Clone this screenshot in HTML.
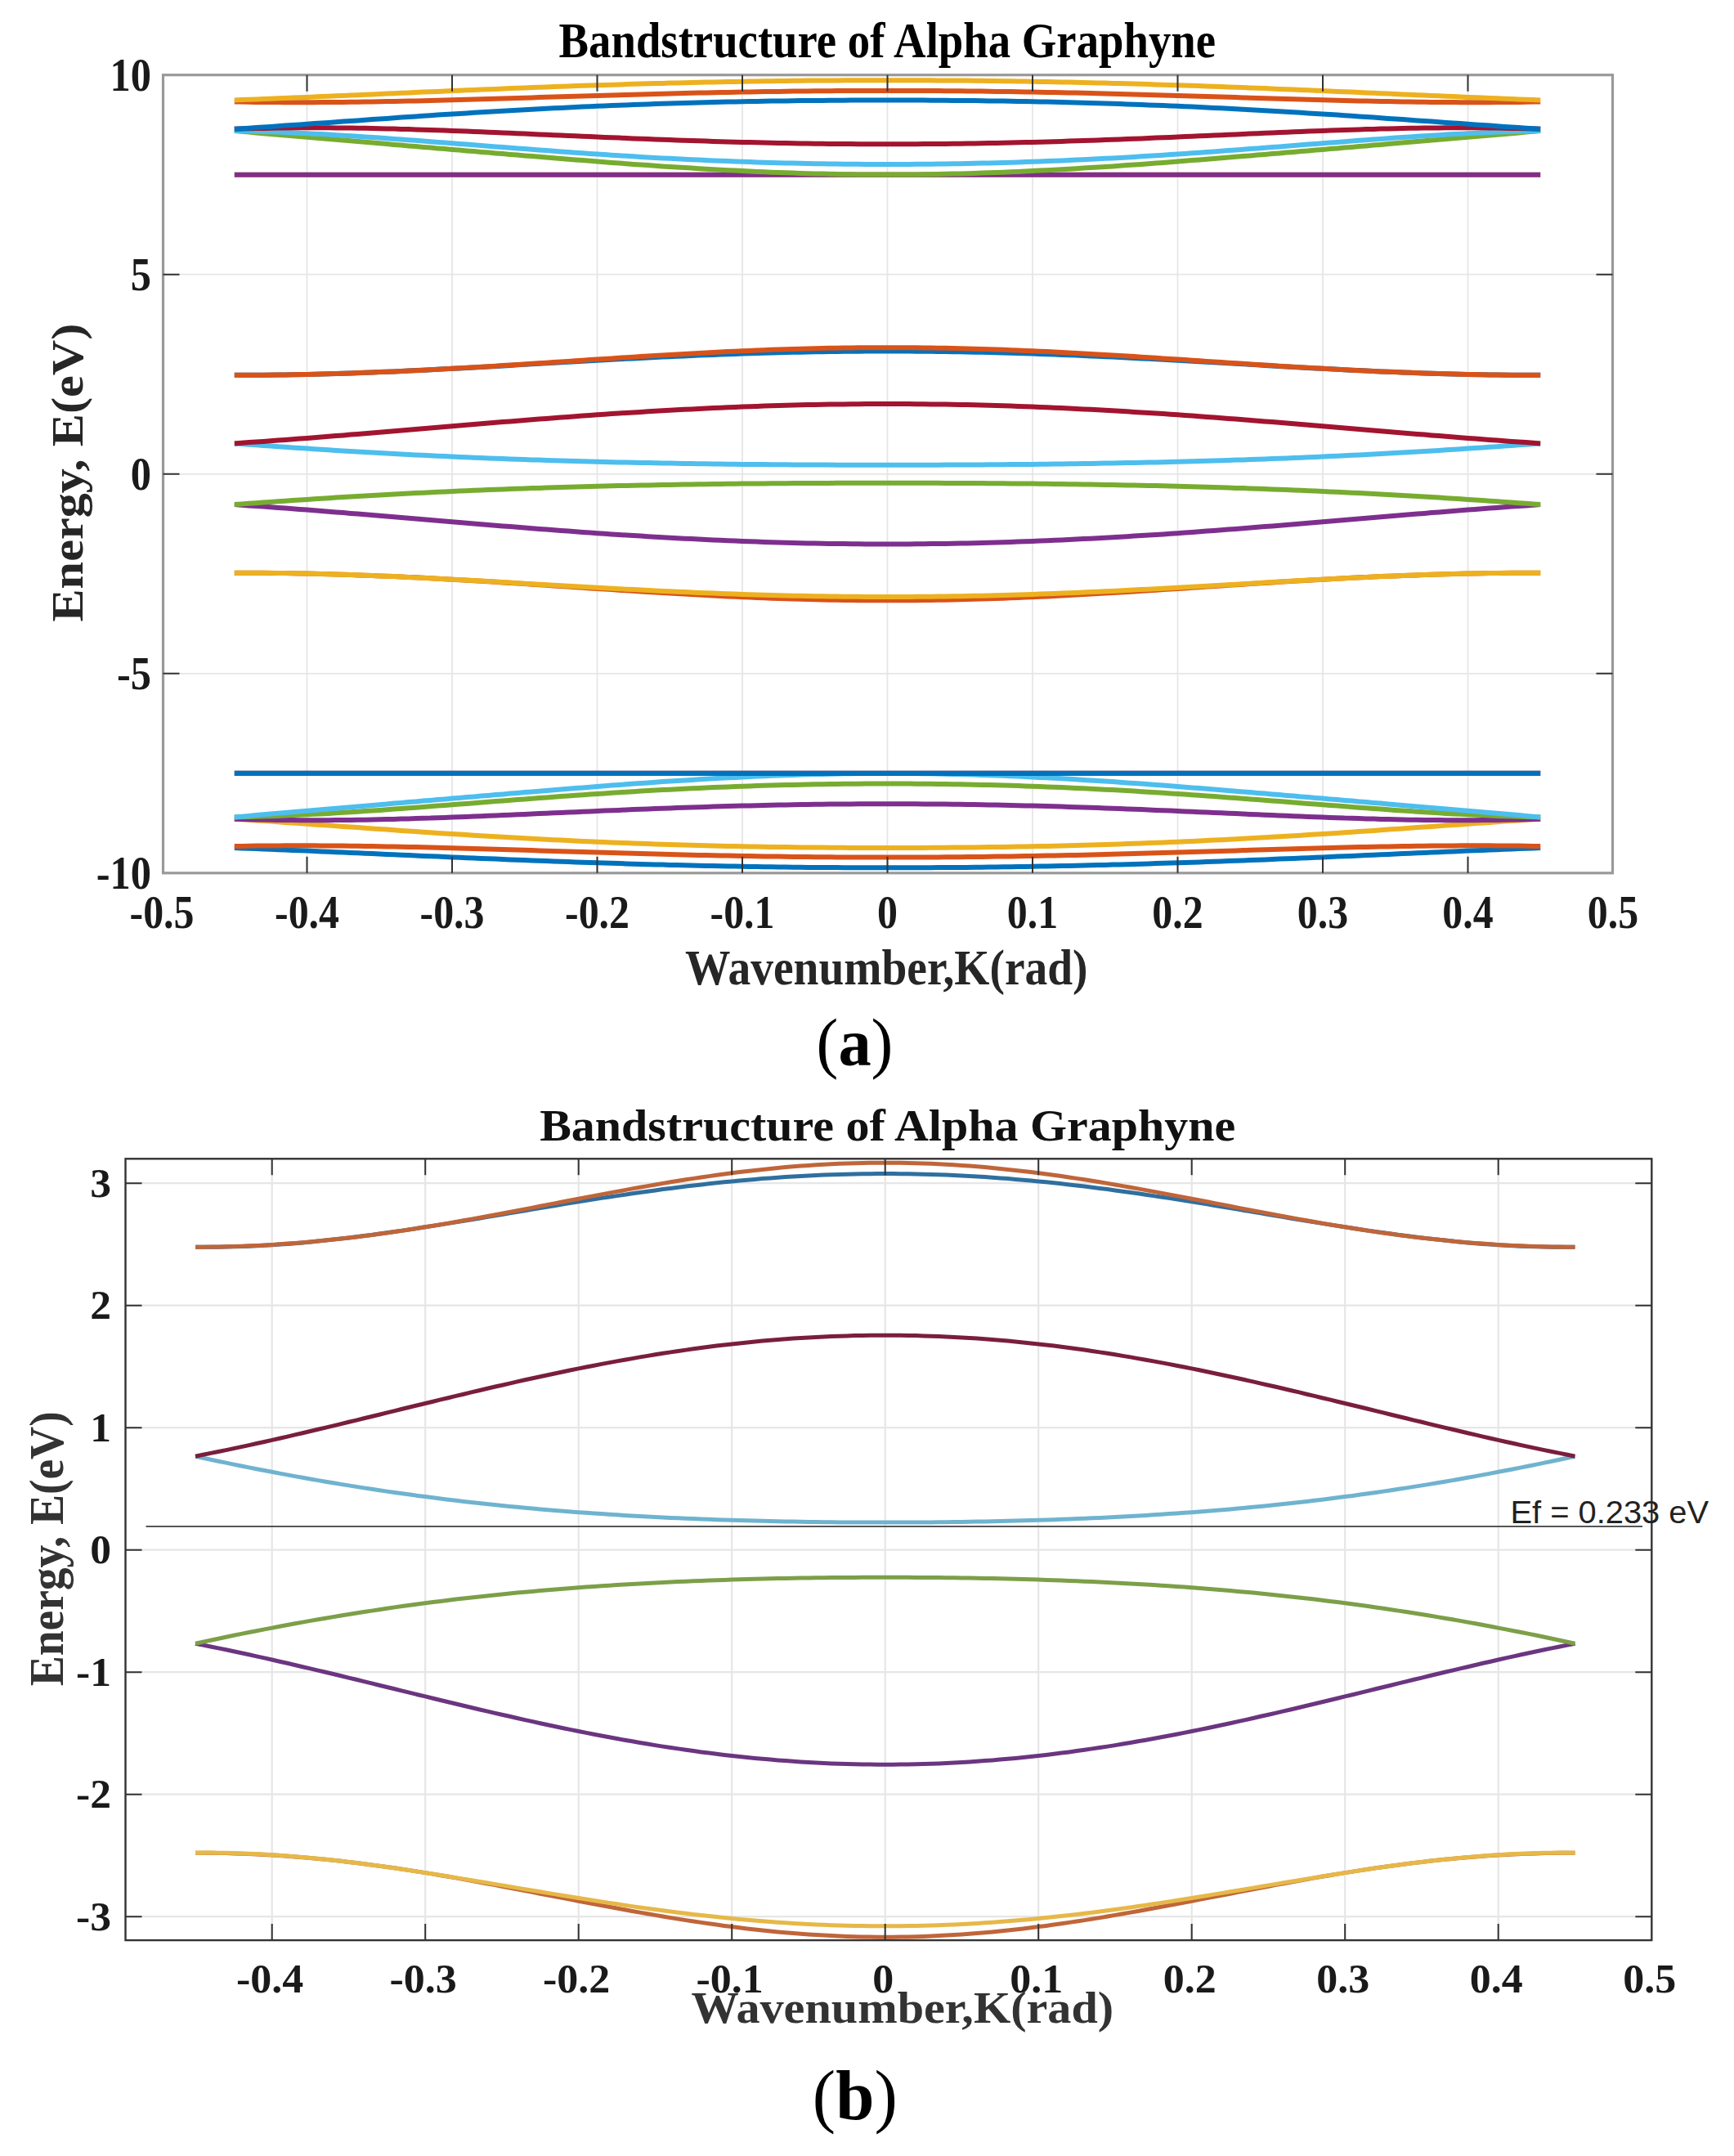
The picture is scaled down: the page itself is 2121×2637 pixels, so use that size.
<!DOCTYPE html>
<html><head><meta charset="utf-8"><title>Bandstructure of Alpha Graphyne</title>
<style>html,body{margin:0;padding:0;background:#fff;overflow:hidden;} svg{display:block;}</style></head>
<body><svg width="2121" height="2637" viewBox="0 0 2121 2637">
<rect width="2121" height="2637" fill="#fff"/>
<g id="pa">
<path d="M375.5,91.7V1067.8M553.0,91.7V1067.8M730.5,91.7V1067.8M908.0,91.7V1067.8M1085.5,91.7V1067.8M1263.0,91.7V1067.8M1440.5,91.7V1067.8M1618.0,91.7V1067.8M1795.5,91.7V1067.8M199.5,335.7H1972.5M199.5,579.8H1972.5M199.5,823.8H1972.5" stroke="#e6e6e6" stroke-width="1.8" fill="none"/>
<polyline points="286.8,1037.0 295.6,1037.4 304.5,1037.7 313.4,1038.1 322.2,1038.4 331.1,1038.8 340.0,1039.2 348.9,1039.5 357.8,1039.9 366.6,1040.3 375.5,1040.6 384.4,1041.0 393.2,1041.4 402.1,1041.8 411.0,1042.2 419.9,1042.6 428.8,1042.9 437.6,1043.3 446.5,1043.7 455.4,1044.1 464.2,1044.5 473.1,1044.9 482.0,1045.3 490.9,1045.7 499.8,1046.1 508.6,1046.5 517.5,1046.9 526.4,1047.3 535.2,1047.6 544.1,1048.0 553.0,1048.4 561.9,1048.8 570.7,1049.2 579.6,1049.5 588.5,1049.9 597.4,1050.3 606.2,1050.6 615.1,1051.0 624.0,1051.4 632.9,1051.7 641.8,1052.1 650.6,1052.4 659.5,1052.7 668.4,1053.1 677.2,1053.4 686.1,1053.7 695.0,1054.0 703.9,1054.4 712.8,1054.7 721.6,1055.0 730.5,1055.3 739.4,1055.6 748.2,1055.8 757.1,1056.1 766.0,1056.4 774.9,1056.7 783.8,1056.9 792.6,1057.2 801.5,1057.4 810.4,1057.6 819.2,1057.9 828.1,1058.1 837.0,1058.3 845.9,1058.5 854.8,1058.7 863.6,1058.9 872.5,1059.1 881.4,1059.3 890.2,1059.5 899.1,1059.6 908.0,1059.8 916.9,1059.9 925.8,1060.1 934.6,1060.2 943.5,1060.3 952.4,1060.5 961.2,1060.6 970.1,1060.7 979.0,1060.8 987.9,1060.9 996.8,1061.0 1005.6,1061.0 1014.5,1061.1 1023.4,1061.1 1032.2,1061.2 1041.1,1061.2 1050.0,1061.3 1058.9,1061.3 1067.8,1061.3 1076.6,1061.3 1085.5,1061.3 1094.4,1061.3 1103.2,1061.3 1112.1,1061.3 1121.0,1061.3 1129.9,1061.2 1138.8,1061.2 1147.6,1061.1 1156.5,1061.1 1165.4,1061.0 1174.2,1061.0 1183.1,1060.9 1192.0,1060.8 1200.9,1060.7 1209.8,1060.6 1218.6,1060.5 1227.5,1060.3 1236.4,1060.2 1245.2,1060.1 1254.1,1059.9 1263.0,1059.8 1271.9,1059.6 1280.8,1059.5 1289.6,1059.3 1298.5,1059.1 1307.4,1058.9 1316.2,1058.7 1325.1,1058.5 1334.0,1058.3 1342.9,1058.1 1351.8,1057.9 1360.6,1057.6 1369.5,1057.4 1378.4,1057.2 1387.2,1056.9 1396.1,1056.7 1405.0,1056.4 1413.9,1056.1 1422.8,1055.8 1431.6,1055.6 1440.5,1055.3 1449.4,1055.0 1458.2,1054.7 1467.1,1054.4 1476.0,1054.0 1484.9,1053.7 1493.8,1053.4 1502.6,1053.1 1511.5,1052.7 1520.4,1052.4 1529.2,1052.1 1538.1,1051.7 1547.0,1051.4 1555.9,1051.0 1564.8,1050.6 1573.6,1050.3 1582.5,1049.9 1591.4,1049.5 1600.2,1049.2 1609.1,1048.8 1618.0,1048.4 1626.9,1048.0 1635.8,1047.6 1644.6,1047.3 1653.5,1046.9 1662.4,1046.5 1671.2,1046.1 1680.1,1045.7 1689.0,1045.3 1697.9,1044.9 1706.8,1044.5 1715.6,1044.1 1724.5,1043.7 1733.4,1043.3 1742.2,1042.9 1751.1,1042.6 1760.0,1042.2 1768.9,1041.8 1777.8,1041.4 1786.6,1041.0 1795.5,1040.6 1804.4,1040.3 1813.2,1039.9 1822.1,1039.5 1831.0,1039.2 1839.9,1038.8 1848.8,1038.4 1857.6,1038.1 1866.5,1037.7 1875.4,1037.4 1884.2,1037.0" fill="none" stroke="#0072BD" stroke-width="6.0" stroke-linejoin="round"/>
<polyline points="286.8,1035.0 295.6,1034.9 304.5,1034.7 313.4,1034.6 322.2,1034.5 331.1,1034.4 340.0,1034.4 348.9,1034.3 357.8,1034.3 366.6,1034.3 375.5,1034.3 384.4,1034.3 393.2,1034.4 402.1,1034.4 411.0,1034.5 419.9,1034.6 428.8,1034.7 437.6,1034.8 446.5,1034.9 455.4,1035.1 464.2,1035.2 473.1,1035.4 482.0,1035.5 490.9,1035.7 499.8,1035.9 508.6,1036.1 517.5,1036.3 526.4,1036.5 535.2,1036.8 544.1,1037.0 553.0,1037.2 561.9,1037.5 570.7,1037.7 579.6,1038.0 588.5,1038.2 597.4,1038.5 606.2,1038.8 615.1,1039.0 624.0,1039.3 632.9,1039.6 641.8,1039.8 650.6,1040.1 659.5,1040.4 668.4,1040.7 677.2,1040.9 686.1,1041.2 695.0,1041.5 703.9,1041.8 712.8,1042.0 721.6,1042.3 730.5,1042.6 739.4,1042.8 748.2,1043.1 757.1,1043.3 766.0,1043.6 774.9,1043.8 783.8,1044.1 792.6,1044.3 801.5,1044.6 810.4,1044.8 819.2,1045.0 828.1,1045.2 837.0,1045.5 845.9,1045.7 854.8,1045.9 863.6,1046.1 872.5,1046.3 881.4,1046.4 890.2,1046.6 899.1,1046.8 908.0,1046.9 916.9,1047.1 925.8,1047.2 934.6,1047.4 943.5,1047.5 952.4,1047.6 961.2,1047.8 970.1,1047.9 979.0,1048.0 987.9,1048.1 996.8,1048.2 1005.6,1048.2 1014.5,1048.3 1023.4,1048.4 1032.2,1048.4 1041.1,1048.5 1050.0,1048.5 1058.9,1048.5 1067.8,1048.5 1076.6,1048.6 1085.5,1048.6 1094.4,1048.6 1103.2,1048.5 1112.1,1048.5 1121.0,1048.5 1129.9,1048.5 1138.8,1048.4 1147.6,1048.4 1156.5,1048.3 1165.4,1048.2 1174.2,1048.2 1183.1,1048.1 1192.0,1048.0 1200.9,1047.9 1209.8,1047.8 1218.6,1047.6 1227.5,1047.5 1236.4,1047.4 1245.2,1047.2 1254.1,1047.1 1263.0,1046.9 1271.9,1046.8 1280.8,1046.6 1289.6,1046.4 1298.5,1046.3 1307.4,1046.1 1316.2,1045.9 1325.1,1045.7 1334.0,1045.5 1342.9,1045.2 1351.8,1045.0 1360.6,1044.8 1369.5,1044.6 1378.4,1044.3 1387.2,1044.1 1396.1,1043.8 1405.0,1043.6 1413.9,1043.3 1422.8,1043.1 1431.6,1042.8 1440.5,1042.6 1449.4,1042.3 1458.2,1042.0 1467.1,1041.8 1476.0,1041.5 1484.9,1041.2 1493.8,1040.9 1502.6,1040.7 1511.5,1040.4 1520.4,1040.1 1529.2,1039.8 1538.1,1039.6 1547.0,1039.3 1555.9,1039.0 1564.8,1038.8 1573.6,1038.5 1582.5,1038.2 1591.4,1038.0 1600.2,1037.7 1609.1,1037.5 1618.0,1037.2 1626.9,1037.0 1635.8,1036.8 1644.6,1036.5 1653.5,1036.3 1662.4,1036.1 1671.2,1035.9 1680.1,1035.7 1689.0,1035.5 1697.9,1035.4 1706.8,1035.2 1715.6,1035.1 1724.5,1034.9 1733.4,1034.8 1742.2,1034.7 1751.1,1034.6 1760.0,1034.5 1768.9,1034.4 1777.8,1034.4 1786.6,1034.3 1795.5,1034.3 1804.4,1034.3 1813.2,1034.3 1822.1,1034.3 1831.0,1034.4 1839.9,1034.4 1848.8,1034.5 1857.6,1034.6 1866.5,1034.7 1875.4,1034.9 1884.2,1035.0" fill="none" stroke="#D95319" stroke-width="6.0" stroke-linejoin="round"/>
<polyline points="286.8,1001.7 295.6,1002.2 304.5,1002.8 313.4,1003.4 322.2,1004.0 331.1,1004.6 340.0,1005.2 348.9,1005.9 357.8,1006.5 366.6,1007.1 375.5,1007.7 384.4,1008.4 393.2,1009.0 402.1,1009.6 411.0,1010.2 419.9,1010.9 428.8,1011.5 437.6,1012.1 446.5,1012.8 455.4,1013.4 464.2,1014.0 473.1,1014.6 482.0,1015.3 490.9,1015.9 499.8,1016.5 508.6,1017.1 517.5,1017.7 526.4,1018.3 535.2,1018.9 544.1,1019.4 553.0,1020.0 561.9,1020.6 570.7,1021.1 579.6,1021.7 588.5,1022.2 597.4,1022.8 606.2,1023.3 615.1,1023.8 624.0,1024.3 632.9,1024.8 641.8,1025.3 650.6,1025.8 659.5,1026.3 668.4,1026.7 677.2,1027.2 686.1,1027.6 695.0,1028.1 703.9,1028.5 712.8,1028.9 721.6,1029.3 730.5,1029.7 739.4,1030.1 748.2,1030.4 757.1,1030.8 766.0,1031.1 774.9,1031.5 783.8,1031.8 792.6,1032.1 801.5,1032.4 810.4,1032.7 819.2,1033.0 828.1,1033.3 837.0,1033.5 845.9,1033.8 854.8,1034.0 863.6,1034.2 872.5,1034.5 881.4,1034.7 890.2,1034.9 899.1,1035.1 908.0,1035.2 916.9,1035.4 925.8,1035.6 934.6,1035.7 943.5,1035.9 952.4,1036.0 961.2,1036.1 970.1,1036.2 979.0,1036.4 987.9,1036.4 996.8,1036.5 1005.6,1036.6 1014.5,1036.7 1023.4,1036.8 1032.2,1036.8 1041.1,1036.9 1050.0,1036.9 1058.9,1036.9 1067.8,1036.9 1076.6,1037.0 1085.5,1037.0 1094.4,1037.0 1103.2,1036.9 1112.1,1036.9 1121.0,1036.9 1129.9,1036.9 1138.8,1036.8 1147.6,1036.8 1156.5,1036.7 1165.4,1036.6 1174.2,1036.5 1183.1,1036.4 1192.0,1036.4 1200.9,1036.2 1209.8,1036.1 1218.6,1036.0 1227.5,1035.9 1236.4,1035.7 1245.2,1035.6 1254.1,1035.4 1263.0,1035.2 1271.9,1035.1 1280.8,1034.9 1289.6,1034.7 1298.5,1034.5 1307.4,1034.2 1316.2,1034.0 1325.1,1033.8 1334.0,1033.5 1342.9,1033.3 1351.8,1033.0 1360.6,1032.7 1369.5,1032.4 1378.4,1032.1 1387.2,1031.8 1396.1,1031.5 1405.0,1031.1 1413.9,1030.8 1422.8,1030.4 1431.6,1030.1 1440.5,1029.7 1449.4,1029.3 1458.2,1028.9 1467.1,1028.5 1476.0,1028.1 1484.9,1027.6 1493.8,1027.2 1502.6,1026.7 1511.5,1026.3 1520.4,1025.8 1529.2,1025.3 1538.1,1024.8 1547.0,1024.3 1555.9,1023.8 1564.8,1023.3 1573.6,1022.8 1582.5,1022.2 1591.4,1021.7 1600.2,1021.1 1609.1,1020.6 1618.0,1020.0 1626.9,1019.4 1635.8,1018.9 1644.6,1018.3 1653.5,1017.7 1662.4,1017.1 1671.2,1016.5 1680.1,1015.9 1689.0,1015.3 1697.9,1014.6 1706.8,1014.0 1715.6,1013.4 1724.5,1012.8 1733.4,1012.1 1742.2,1011.5 1751.1,1010.9 1760.0,1010.2 1768.9,1009.6 1777.8,1009.0 1786.6,1008.4 1795.5,1007.7 1804.4,1007.1 1813.2,1006.5 1822.1,1005.9 1831.0,1005.2 1839.9,1004.6 1848.8,1004.0 1857.6,1003.4 1866.5,1002.8 1875.4,1002.2 1884.2,1001.7" fill="none" stroke="#EDB120" stroke-width="6.0" stroke-linejoin="round"/>
<polyline points="286.8,1001.7 295.6,1002.0 304.5,1002.2 313.4,1002.4 322.2,1002.6 331.1,1002.8 340.0,1002.9 348.9,1003.1 357.8,1003.1 366.6,1003.2 375.5,1003.2 384.4,1003.2 393.2,1003.2 402.1,1003.2 411.0,1003.1 419.9,1003.0 428.8,1002.9 437.6,1002.8 446.5,1002.7 455.4,1002.5 464.2,1002.3 473.1,1002.1 482.0,1001.9 490.9,1001.6 499.8,1001.4 508.6,1001.1 517.5,1000.8 526.4,1000.6 535.2,1000.2 544.1,999.9 553.0,999.6 561.9,999.3 570.7,998.9 579.6,998.6 588.5,998.2 597.4,997.8 606.2,997.5 615.1,997.1 624.0,996.7 632.9,996.3 641.8,995.9 650.6,995.5 659.5,995.1 668.4,994.7 677.2,994.3 686.1,993.9 695.0,993.6 703.9,993.2 712.8,992.8 721.6,992.4 730.5,992.0 739.4,991.6 748.2,991.2 757.1,990.9 766.0,990.5 774.9,990.1 783.8,989.8 792.6,989.4 801.5,989.1 810.4,988.7 819.2,988.4 828.1,988.1 837.0,987.8 845.9,987.5 854.8,987.2 863.6,986.9 872.5,986.6 881.4,986.3 890.2,986.1 899.1,985.8 908.0,985.6 916.9,985.4 925.8,985.2 934.6,985.0 943.5,984.8 952.4,984.6 961.2,984.4 970.1,984.2 979.0,984.1 987.9,984.0 996.8,983.8 1005.6,983.7 1014.5,983.6 1023.4,983.5 1032.2,983.4 1041.1,983.4 1050.0,983.3 1058.9,983.3 1067.8,983.2 1076.6,983.2 1085.5,983.2 1094.4,983.2 1103.2,983.2 1112.1,983.3 1121.0,983.3 1129.9,983.4 1138.8,983.4 1147.6,983.5 1156.5,983.6 1165.4,983.7 1174.2,983.8 1183.1,984.0 1192.0,984.1 1200.9,984.2 1209.8,984.4 1218.6,984.6 1227.5,984.8 1236.4,985.0 1245.2,985.2 1254.1,985.4 1263.0,985.6 1271.9,985.8 1280.8,986.1 1289.6,986.3 1298.5,986.6 1307.4,986.9 1316.2,987.2 1325.1,987.5 1334.0,987.8 1342.9,988.1 1351.8,988.4 1360.6,988.7 1369.5,989.1 1378.4,989.4 1387.2,989.8 1396.1,990.1 1405.0,990.5 1413.9,990.9 1422.8,991.2 1431.6,991.6 1440.5,992.0 1449.4,992.4 1458.2,992.8 1467.1,993.2 1476.0,993.6 1484.9,993.9 1493.8,994.3 1502.6,994.7 1511.5,995.1 1520.4,995.5 1529.2,995.9 1538.1,996.3 1547.0,996.7 1555.9,997.1 1564.8,997.5 1573.6,997.8 1582.5,998.2 1591.4,998.6 1600.2,998.9 1609.1,999.3 1618.0,999.6 1626.9,999.9 1635.8,1000.2 1644.6,1000.6 1653.5,1000.8 1662.4,1001.1 1671.2,1001.4 1680.1,1001.6 1689.0,1001.9 1697.9,1002.1 1706.8,1002.3 1715.6,1002.5 1724.5,1002.7 1733.4,1002.8 1742.2,1002.9 1751.1,1003.0 1760.0,1003.1 1768.9,1003.2 1777.8,1003.2 1786.6,1003.2 1795.5,1003.2 1804.4,1003.2 1813.2,1003.1 1822.1,1003.1 1831.0,1002.9 1839.9,1002.8 1848.8,1002.6 1857.6,1002.4 1866.5,1002.2 1875.4,1002.0 1884.2,1001.7" fill="none" stroke="#7E2F8E" stroke-width="6.0" stroke-linejoin="round"/>
<polyline points="286.8,999.5 295.6,999.3 304.5,999.1 313.4,998.8 322.2,998.5 331.1,998.2 340.0,997.9 348.9,997.5 357.8,997.1 366.6,996.7 375.5,996.3 384.4,995.8 393.2,995.4 402.1,994.9 411.0,994.3 419.9,993.8 428.8,993.3 437.6,992.7 446.5,992.1 455.4,991.5 464.2,990.9 473.1,990.3 482.0,989.6 490.9,989.0 499.8,988.3 508.6,987.7 517.5,987.0 526.4,986.3 535.2,985.6 544.1,985.0 553.0,984.3 561.9,983.6 570.7,982.9 579.6,982.2 588.5,981.5 597.4,980.8 606.2,980.1 615.1,979.4 624.0,978.7 632.9,978.0 641.8,977.4 650.6,976.7 659.5,976.0 668.4,975.4 677.2,974.7 686.1,974.1 695.0,973.4 703.9,972.8 712.8,972.2 721.6,971.6 730.5,971.0 739.4,970.4 748.2,969.8 757.1,969.2 766.0,968.7 774.9,968.2 783.8,967.6 792.6,967.1 801.5,966.6 810.4,966.1 819.2,965.7 828.1,965.2 837.0,964.7 845.9,964.3 854.8,963.9 863.6,963.5 872.5,963.1 881.4,962.7 890.2,962.4 899.1,962.0 908.0,961.7 916.9,961.4 925.8,961.1 934.6,960.8 943.5,960.6 952.4,960.3 961.2,960.1 970.1,959.9 979.0,959.7 987.9,959.5 996.8,959.3 1005.6,959.2 1014.5,959.1 1023.4,958.9 1032.2,958.8 1041.1,958.7 1050.0,958.7 1058.9,958.6 1067.8,958.6 1076.6,958.5 1085.5,958.5 1094.4,958.5 1103.2,958.6 1112.1,958.6 1121.0,958.7 1129.9,958.7 1138.8,958.8 1147.6,958.9 1156.5,959.1 1165.4,959.2 1174.2,959.3 1183.1,959.5 1192.0,959.7 1200.9,959.9 1209.8,960.1 1218.6,960.3 1227.5,960.6 1236.4,960.8 1245.2,961.1 1254.1,961.4 1263.0,961.7 1271.9,962.0 1280.8,962.4 1289.6,962.7 1298.5,963.1 1307.4,963.5 1316.2,963.9 1325.1,964.3 1334.0,964.7 1342.9,965.2 1351.8,965.7 1360.6,966.1 1369.5,966.6 1378.4,967.1 1387.2,967.6 1396.1,968.2 1405.0,968.7 1413.9,969.2 1422.8,969.8 1431.6,970.4 1440.5,971.0 1449.4,971.6 1458.2,972.2 1467.1,972.8 1476.0,973.4 1484.9,974.1 1493.8,974.7 1502.6,975.4 1511.5,976.0 1520.4,976.7 1529.2,977.4 1538.1,978.0 1547.0,978.7 1555.9,979.4 1564.8,980.1 1573.6,980.8 1582.5,981.5 1591.4,982.2 1600.2,982.9 1609.1,983.6 1618.0,984.3 1626.9,985.0 1635.8,985.6 1644.6,986.3 1653.5,987.0 1662.4,987.7 1671.2,988.3 1680.1,989.0 1689.0,989.6 1697.9,990.3 1706.8,990.9 1715.6,991.5 1724.5,992.1 1733.4,992.7 1742.2,993.3 1751.1,993.8 1760.0,994.3 1768.9,994.9 1777.8,995.4 1786.6,995.8 1795.5,996.3 1804.4,996.7 1813.2,997.1 1822.1,997.5 1831.0,997.9 1839.9,998.2 1848.8,998.5 1857.6,998.8 1866.5,999.1 1875.4,999.3 1884.2,999.5" fill="none" stroke="#77AC30" stroke-width="6.0" stroke-linejoin="round"/>
<polyline points="286.8,999.5 295.6,998.7 304.5,997.9 313.4,997.1 322.2,996.3 331.1,995.6 340.0,994.8 348.9,994.0 357.8,993.2 366.6,992.5 375.5,991.7 384.4,991.0 393.2,990.2 402.1,989.4 411.0,988.7 419.9,987.9 428.8,987.2 437.6,986.4 446.5,985.7 455.4,984.9 464.2,984.2 473.1,983.4 482.0,982.6 490.9,981.9 499.8,981.1 508.6,980.4 517.5,979.6 526.4,978.9 535.2,978.1 544.1,977.4 553.0,976.6 561.9,975.9 570.7,975.1 579.6,974.4 588.5,973.6 597.4,972.9 606.2,972.1 615.1,971.4 624.0,970.6 632.9,969.9 641.8,969.1 650.6,968.4 659.5,967.7 668.4,966.9 677.2,966.2 686.1,965.5 695.0,964.8 703.9,964.1 712.8,963.4 721.6,962.7 730.5,962.0 739.4,961.3 748.2,960.6 757.1,959.9 766.0,959.3 774.9,958.6 783.8,958.0 792.6,957.4 801.5,956.8 810.4,956.1 819.2,955.6 828.1,955.0 837.0,954.4 845.9,953.9 854.8,953.3 863.6,952.8 872.5,952.3 881.4,951.8 890.2,951.3 899.1,950.9 908.0,950.4 916.9,950.0 925.8,949.6 934.6,949.2 943.5,948.8 952.4,948.5 961.2,948.2 970.1,947.9 979.0,947.6 987.9,947.3 996.8,947.1 1005.6,946.9 1014.5,946.7 1023.4,946.5 1032.2,946.3 1041.1,946.2 1050.0,946.1 1058.9,946.0 1067.8,946.0 1076.6,945.9 1085.5,945.9 1094.4,945.9 1103.2,946.0 1112.1,946.0 1121.0,946.1 1129.9,946.2 1138.8,946.3 1147.6,946.5 1156.5,946.7 1165.4,946.9 1174.2,947.1 1183.1,947.3 1192.0,947.6 1200.9,947.9 1209.8,948.2 1218.6,948.5 1227.5,948.8 1236.4,949.2 1245.2,949.6 1254.1,950.0 1263.0,950.4 1271.9,950.9 1280.8,951.3 1289.6,951.8 1298.5,952.3 1307.4,952.8 1316.2,953.3 1325.1,953.9 1334.0,954.4 1342.9,955.0 1351.8,955.6 1360.6,956.1 1369.5,956.8 1378.4,957.4 1387.2,958.0 1396.1,958.6 1405.0,959.3 1413.9,959.9 1422.8,960.6 1431.6,961.3 1440.5,962.0 1449.4,962.7 1458.2,963.4 1467.1,964.1 1476.0,964.8 1484.9,965.5 1493.8,966.2 1502.6,966.9 1511.5,967.7 1520.4,968.4 1529.2,969.1 1538.1,969.9 1547.0,970.6 1555.9,971.4 1564.8,972.1 1573.6,972.9 1582.5,973.6 1591.4,974.4 1600.2,975.1 1609.1,975.9 1618.0,976.6 1626.9,977.4 1635.8,978.1 1644.6,978.9 1653.5,979.6 1662.4,980.4 1671.2,981.1 1680.1,981.9 1689.0,982.6 1697.9,983.4 1706.8,984.2 1715.6,984.9 1724.5,985.7 1733.4,986.4 1742.2,987.2 1751.1,987.9 1760.0,988.7 1768.9,989.4 1777.8,990.2 1786.6,991.0 1795.5,991.7 1804.4,992.5 1813.2,993.2 1822.1,994.0 1831.0,994.8 1839.9,995.6 1848.8,996.3 1857.6,997.1 1866.5,997.9 1875.4,998.7 1884.2,999.5" fill="none" stroke="#4DBEEE" stroke-width="6.0" stroke-linejoin="round"/>
<polyline points="286.8,945.8 295.6,945.8 304.5,945.8 313.4,945.8 322.2,945.8 331.1,945.8 340.0,945.8 348.9,945.8 357.8,945.8 366.6,945.8 375.5,945.8 384.4,945.8 393.2,945.8 402.1,945.8 411.0,945.8 419.9,945.8 428.8,945.8 437.6,945.8 446.5,945.8 455.4,945.8 464.2,945.8 473.1,945.8 482.0,945.8 490.9,945.8 499.8,945.8 508.6,945.8 517.5,945.8 526.4,945.8 535.2,945.8 544.1,945.8 553.0,945.8 561.9,945.8 570.7,945.8 579.6,945.8 588.5,945.8 597.4,945.8 606.2,945.8 615.1,945.8 624.0,945.8 632.9,945.8 641.8,945.8 650.6,945.8 659.5,945.8 668.4,945.8 677.2,945.8 686.1,945.8 695.0,945.8 703.9,945.8 712.8,945.8 721.6,945.8 730.5,945.8 739.4,945.8 748.2,945.8 757.1,945.8 766.0,945.8 774.9,945.8 783.8,945.8 792.6,945.8 801.5,945.8 810.4,945.8 819.2,945.8 828.1,945.8 837.0,945.8 845.9,945.8 854.8,945.8 863.6,945.8 872.5,945.8 881.4,945.8 890.2,945.8 899.1,945.8 908.0,945.8 916.9,945.8 925.8,945.8 934.6,945.8 943.5,945.8 952.4,945.8 961.2,945.8 970.1,945.8 979.0,945.8 987.9,945.8 996.8,945.8 1005.6,945.8 1014.5,945.8 1023.4,945.8 1032.2,945.8 1041.1,945.8 1050.0,945.8 1058.9,945.8 1067.8,945.8 1076.6,945.8 1085.5,945.8 1094.4,945.8 1103.2,945.8 1112.1,945.8 1121.0,945.8 1129.9,945.8 1138.8,945.8 1147.6,945.8 1156.5,945.8 1165.4,945.8 1174.2,945.8 1183.1,945.8 1192.0,945.8 1200.9,945.8 1209.8,945.8 1218.6,945.8 1227.5,945.8 1236.4,945.8 1245.2,945.8 1254.1,945.8 1263.0,945.8 1271.9,945.8 1280.8,945.8 1289.6,945.8 1298.5,945.8 1307.4,945.8 1316.2,945.8 1325.1,945.8 1334.0,945.8 1342.9,945.8 1351.8,945.8 1360.6,945.8 1369.5,945.8 1378.4,945.8 1387.2,945.8 1396.1,945.8 1405.0,945.8 1413.9,945.8 1422.8,945.8 1431.6,945.8 1440.5,945.8 1449.4,945.8 1458.2,945.8 1467.1,945.8 1476.0,945.8 1484.9,945.8 1493.8,945.8 1502.6,945.8 1511.5,945.8 1520.4,945.8 1529.2,945.8 1538.1,945.8 1547.0,945.8 1555.9,945.8 1564.8,945.8 1573.6,945.8 1582.5,945.8 1591.4,945.8 1600.2,945.8 1609.1,945.8 1618.0,945.8 1626.9,945.8 1635.8,945.8 1644.6,945.8 1653.5,945.8 1662.4,945.8 1671.2,945.8 1680.1,945.8 1689.0,945.8 1697.9,945.8 1706.8,945.8 1715.6,945.8 1724.5,945.8 1733.4,945.8 1742.2,945.8 1751.1,945.8 1760.0,945.8 1768.9,945.8 1777.8,945.8 1786.6,945.8 1795.5,945.8 1804.4,945.8 1813.2,945.8 1822.1,945.8 1831.0,945.8 1839.9,945.8 1848.8,945.8 1857.6,945.8 1866.5,945.8 1875.4,945.8 1884.2,945.8" fill="none" stroke="#A2142F" stroke-width="6.0" stroke-linejoin="round"/>
<polyline points="286.8,945.8 295.6,945.8 304.5,945.8 313.4,945.8 322.2,945.8 331.1,945.8 340.0,945.8 348.9,945.8 357.8,945.8 366.6,945.8 375.5,945.8 384.4,945.8 393.2,945.8 402.1,945.8 411.0,945.8 419.9,945.8 428.8,945.8 437.6,945.8 446.5,945.8 455.4,945.8 464.2,945.8 473.1,945.8 482.0,945.8 490.9,945.8 499.8,945.8 508.6,945.8 517.5,945.8 526.4,945.8 535.2,945.8 544.1,945.8 553.0,945.8 561.9,945.8 570.7,945.8 579.6,945.8 588.5,945.8 597.4,945.8 606.2,945.8 615.1,945.8 624.0,945.8 632.9,945.8 641.8,945.8 650.6,945.8 659.5,945.8 668.4,945.8 677.2,945.8 686.1,945.8 695.0,945.8 703.9,945.8 712.8,945.8 721.6,945.8 730.5,945.8 739.4,945.8 748.2,945.8 757.1,945.8 766.0,945.8 774.9,945.8 783.8,945.8 792.6,945.8 801.5,945.8 810.4,945.8 819.2,945.8 828.1,945.8 837.0,945.8 845.9,945.8 854.8,945.8 863.6,945.8 872.5,945.8 881.4,945.8 890.2,945.8 899.1,945.8 908.0,945.8 916.9,945.8 925.8,945.8 934.6,945.8 943.5,945.8 952.4,945.8 961.2,945.8 970.1,945.8 979.0,945.8 987.9,945.8 996.8,945.8 1005.6,945.8 1014.5,945.8 1023.4,945.8 1032.2,945.8 1041.1,945.8 1050.0,945.8 1058.9,945.8 1067.8,945.8 1076.6,945.8 1085.5,945.8 1094.4,945.8 1103.2,945.8 1112.1,945.8 1121.0,945.8 1129.9,945.8 1138.8,945.8 1147.6,945.8 1156.5,945.8 1165.4,945.8 1174.2,945.8 1183.1,945.8 1192.0,945.8 1200.9,945.8 1209.8,945.8 1218.6,945.8 1227.5,945.8 1236.4,945.8 1245.2,945.8 1254.1,945.8 1263.0,945.8 1271.9,945.8 1280.8,945.8 1289.6,945.8 1298.5,945.8 1307.4,945.8 1316.2,945.8 1325.1,945.8 1334.0,945.8 1342.9,945.8 1351.8,945.8 1360.6,945.8 1369.5,945.8 1378.4,945.8 1387.2,945.8 1396.1,945.8 1405.0,945.8 1413.9,945.8 1422.8,945.8 1431.6,945.8 1440.5,945.8 1449.4,945.8 1458.2,945.8 1467.1,945.8 1476.0,945.8 1484.9,945.8 1493.8,945.8 1502.6,945.8 1511.5,945.8 1520.4,945.8 1529.2,945.8 1538.1,945.8 1547.0,945.8 1555.9,945.8 1564.8,945.8 1573.6,945.8 1582.5,945.8 1591.4,945.8 1600.2,945.8 1609.1,945.8 1618.0,945.8 1626.9,945.8 1635.8,945.8 1644.6,945.8 1653.5,945.8 1662.4,945.8 1671.2,945.8 1680.1,945.8 1689.0,945.8 1697.9,945.8 1706.8,945.8 1715.6,945.8 1724.5,945.8 1733.4,945.8 1742.2,945.8 1751.1,945.8 1760.0,945.8 1768.9,945.8 1777.8,945.8 1786.6,945.8 1795.5,945.8 1804.4,945.8 1813.2,945.8 1822.1,945.8 1831.0,945.8 1839.9,945.8 1848.8,945.8 1857.6,945.8 1866.5,945.8 1875.4,945.8 1884.2,945.8" fill="none" stroke="#0072BD" stroke-width="6.0" stroke-linejoin="round"/>
<polyline points="286.8,700.7 295.6,700.7 304.5,700.7 313.4,700.8 322.2,700.8 331.1,700.9 340.0,701.0 348.9,701.1 357.8,701.3 366.6,701.4 375.5,701.6 384.4,701.8 393.2,702.0 402.1,702.3 411.0,702.5 419.9,702.8 428.8,703.1 437.6,703.4 446.5,703.7 455.4,704.0 464.2,704.4 473.1,704.7 482.0,705.1 490.9,705.5 499.8,705.9 508.6,706.3 517.5,706.8 526.4,707.2 535.2,707.7 544.1,708.2 553.0,708.7 561.9,709.2 570.7,709.7 579.6,710.2 588.5,710.7 597.4,711.3 606.2,711.8 615.1,712.4 624.0,712.9 632.9,713.5 641.8,714.1 650.6,714.7 659.5,715.2 668.4,715.8 677.2,716.4 686.1,717.0 695.0,717.6 703.9,718.2 712.8,718.8 721.6,719.4 730.5,720.0 739.4,720.5 748.2,721.1 757.1,721.7 766.0,722.3 774.9,722.8 783.8,723.4 792.6,724.0 801.5,724.5 810.4,725.1 819.2,725.6 828.1,726.1 837.0,726.6 845.9,727.1 854.8,727.6 863.6,728.1 872.5,728.5 881.4,729.0 890.2,729.4 899.1,729.8 908.0,730.2 916.9,730.6 925.8,731.0 934.6,731.3 943.5,731.7 952.4,732.0 961.2,732.3 970.1,732.6 979.0,732.8 987.9,733.1 996.8,733.3 1005.6,733.5 1014.5,733.7 1023.4,733.8 1032.2,734.0 1041.1,734.1 1050.0,734.2 1058.9,734.2 1067.8,734.3 1076.6,734.3 1085.5,734.3 1094.4,734.3 1103.2,734.3 1112.1,734.2 1121.0,734.2 1129.9,734.1 1138.8,734.0 1147.6,733.8 1156.5,733.7 1165.4,733.5 1174.2,733.3 1183.1,733.1 1192.0,732.8 1200.9,732.6 1209.8,732.3 1218.6,732.0 1227.5,731.7 1236.4,731.3 1245.2,731.0 1254.1,730.6 1263.0,730.2 1271.9,729.8 1280.8,729.4 1289.6,729.0 1298.5,728.5 1307.4,728.1 1316.2,727.6 1325.1,727.1 1334.0,726.6 1342.9,726.1 1351.8,725.6 1360.6,725.1 1369.5,724.5 1378.4,724.0 1387.2,723.4 1396.1,722.8 1405.0,722.3 1413.9,721.7 1422.8,721.1 1431.6,720.5 1440.5,720.0 1449.4,719.4 1458.2,718.8 1467.1,718.2 1476.0,717.6 1484.9,717.0 1493.8,716.4 1502.6,715.8 1511.5,715.2 1520.4,714.7 1529.2,714.1 1538.1,713.5 1547.0,712.9 1555.9,712.4 1564.8,711.8 1573.6,711.3 1582.5,710.7 1591.4,710.2 1600.2,709.7 1609.1,709.2 1618.0,708.7 1626.9,708.2 1635.8,707.7 1644.6,707.2 1653.5,706.8 1662.4,706.3 1671.2,705.9 1680.1,705.5 1689.0,705.1 1697.9,704.7 1706.8,704.4 1715.6,704.0 1724.5,703.7 1733.4,703.4 1742.2,703.1 1751.1,702.8 1760.0,702.5 1768.9,702.3 1777.8,702.0 1786.6,701.8 1795.5,701.6 1804.4,701.4 1813.2,701.3 1822.1,701.1 1831.0,701.0 1839.9,700.9 1848.8,700.8 1857.6,700.8 1866.5,700.7 1875.4,700.7 1884.2,700.7" fill="none" stroke="#D95319" stroke-width="6.0" stroke-linejoin="round"/>
<polyline points="286.8,700.7 295.6,700.7 304.5,700.7 313.4,700.7 322.2,700.7 331.1,700.8 340.0,700.9 348.9,701.0 357.8,701.2 366.6,701.3 375.5,701.5 384.4,701.7 393.2,701.9 402.1,702.2 411.0,702.4 419.9,702.7 428.8,703.0 437.6,703.3 446.5,703.7 455.4,704.0 464.2,704.4 473.1,704.7 482.0,705.1 490.9,705.5 499.8,706.0 508.6,706.4 517.5,706.8 526.4,707.3 535.2,707.7 544.1,708.2 553.0,708.7 561.9,709.1 570.7,709.6 579.6,710.1 588.5,710.6 597.4,711.1 606.2,711.6 615.1,712.1 624.0,712.6 632.9,713.2 641.8,713.7 650.6,714.2 659.5,714.7 668.4,715.2 677.2,715.7 686.1,716.3 695.0,716.8 703.9,717.3 712.8,717.8 721.6,718.3 730.5,718.8 739.4,719.3 748.2,719.7 757.1,720.2 766.0,720.7 774.9,721.1 783.8,721.6 792.6,722.0 801.5,722.5 810.4,722.9 819.2,723.3 828.1,723.7 837.0,724.1 845.9,724.5 854.8,724.9 863.6,725.3 872.5,725.6 881.4,726.0 890.2,726.3 899.1,726.6 908.0,726.9 916.9,727.2 925.8,727.5 934.6,727.7 943.5,728.0 952.4,728.2 961.2,728.4 970.1,728.7 979.0,728.8 987.9,729.0 996.8,729.2 1005.6,729.3 1014.5,729.5 1023.4,729.6 1032.2,729.7 1041.1,729.8 1050.0,729.8 1058.9,729.9 1067.8,729.9 1076.6,730.0 1085.5,730.0 1094.4,730.0 1103.2,729.9 1112.1,729.9 1121.0,729.8 1129.9,729.8 1138.8,729.7 1147.6,729.6 1156.5,729.5 1165.4,729.3 1174.2,729.2 1183.1,729.0 1192.0,728.8 1200.9,728.7 1209.8,728.4 1218.6,728.2 1227.5,728.0 1236.4,727.7 1245.2,727.5 1254.1,727.2 1263.0,726.9 1271.9,726.6 1280.8,726.3 1289.6,726.0 1298.5,725.6 1307.4,725.3 1316.2,724.9 1325.1,724.5 1334.0,724.1 1342.9,723.7 1351.8,723.3 1360.6,722.9 1369.5,722.5 1378.4,722.0 1387.2,721.6 1396.1,721.1 1405.0,720.7 1413.9,720.2 1422.8,719.7 1431.6,719.3 1440.5,718.8 1449.4,718.3 1458.2,717.8 1467.1,717.3 1476.0,716.8 1484.9,716.3 1493.8,715.7 1502.6,715.2 1511.5,714.7 1520.4,714.2 1529.2,713.7 1538.1,713.2 1547.0,712.6 1555.9,712.1 1564.8,711.6 1573.6,711.1 1582.5,710.6 1591.4,710.1 1600.2,709.6 1609.1,709.1 1618.0,708.7 1626.9,708.2 1635.8,707.7 1644.6,707.3 1653.5,706.8 1662.4,706.4 1671.2,706.0 1680.1,705.5 1689.0,705.1 1697.9,704.7 1706.8,704.4 1715.6,704.0 1724.5,703.7 1733.4,703.3 1742.2,703.0 1751.1,702.7 1760.0,702.4 1768.9,702.2 1777.8,701.9 1786.6,701.7 1795.5,701.5 1804.4,701.3 1813.2,701.2 1822.1,701.0 1831.0,700.9 1839.9,700.8 1848.8,700.7 1857.6,700.7 1866.5,700.7 1875.4,700.7 1884.2,700.7" fill="none" stroke="#EDB120" stroke-width="6.0" stroke-linejoin="round"/>
<polyline points="286.8,617.1 295.6,617.7 304.5,618.4 313.4,619.0 322.2,619.6 331.1,620.3 340.0,620.9 348.9,621.6 357.8,622.2 366.6,622.9 375.5,623.6 384.4,624.3 393.2,625.0 402.1,625.7 411.0,626.4 419.9,627.1 428.8,627.9 437.6,628.6 446.5,629.3 455.4,630.1 464.2,630.8 473.1,631.5 482.0,632.3 490.9,633.0 499.8,633.8 508.6,634.5 517.5,635.3 526.4,636.0 535.2,636.8 544.1,637.5 553.0,638.3 561.9,639.0 570.7,639.7 579.6,640.5 588.5,641.2 597.4,642.0 606.2,642.7 615.1,643.4 624.0,644.1 632.9,644.8 641.8,645.5 650.6,646.2 659.5,646.9 668.4,647.6 677.2,648.3 686.1,649.0 695.0,649.6 703.9,650.3 712.8,650.9 721.6,651.5 730.5,652.2 739.4,652.8 748.2,653.4 757.1,654.0 766.0,654.5 774.9,655.1 783.8,655.6 792.6,656.2 801.5,656.7 810.4,657.2 819.2,657.7 828.1,658.2 837.0,658.7 845.9,659.1 854.8,659.6 863.6,660.0 872.5,660.4 881.4,660.8 890.2,661.2 899.1,661.6 908.0,661.9 916.9,662.3 925.8,662.6 934.6,662.9 943.5,663.2 952.4,663.5 961.2,663.7 970.1,663.9 979.0,664.2 987.9,664.4 996.8,664.6 1005.6,664.7 1014.5,664.9 1023.4,665.0 1032.2,665.1 1041.1,665.2 1050.0,665.3 1058.9,665.4 1067.8,665.4 1076.6,665.4 1085.5,665.4 1094.4,665.4 1103.2,665.4 1112.1,665.4 1121.0,665.3 1129.9,665.2 1138.8,665.1 1147.6,665.0 1156.5,664.9 1165.4,664.7 1174.2,664.6 1183.1,664.4 1192.0,664.2 1200.9,663.9 1209.8,663.7 1218.6,663.5 1227.5,663.2 1236.4,662.9 1245.2,662.6 1254.1,662.3 1263.0,661.9 1271.9,661.6 1280.8,661.2 1289.6,660.8 1298.5,660.4 1307.4,660.0 1316.2,659.6 1325.1,659.1 1334.0,658.7 1342.9,658.2 1351.8,657.7 1360.6,657.2 1369.5,656.7 1378.4,656.2 1387.2,655.6 1396.1,655.1 1405.0,654.5 1413.9,654.0 1422.8,653.4 1431.6,652.8 1440.5,652.2 1449.4,651.5 1458.2,650.9 1467.1,650.3 1476.0,649.6 1484.9,649.0 1493.8,648.3 1502.6,647.6 1511.5,646.9 1520.4,646.2 1529.2,645.5 1538.1,644.8 1547.0,644.1 1555.9,643.4 1564.8,642.7 1573.6,642.0 1582.5,641.2 1591.4,640.5 1600.2,639.7 1609.1,639.0 1618.0,638.3 1626.9,637.5 1635.8,636.8 1644.6,636.0 1653.5,635.3 1662.4,634.5 1671.2,633.8 1680.1,633.0 1689.0,632.3 1697.9,631.5 1706.8,630.8 1715.6,630.1 1724.5,629.3 1733.4,628.6 1742.2,627.9 1751.1,627.1 1760.0,626.4 1768.9,625.7 1777.8,625.0 1786.6,624.3 1795.5,623.6 1804.4,622.9 1813.2,622.2 1822.1,621.6 1831.0,620.9 1839.9,620.3 1848.8,619.6 1857.6,619.0 1866.5,618.4 1875.4,617.7 1884.2,617.1" fill="none" stroke="#7E2F8E" stroke-width="6.0" stroke-linejoin="round"/>
<polyline points="286.8,617.1 295.6,616.5 304.5,615.8 313.4,615.2 322.2,614.5 331.1,613.9 340.0,613.3 348.9,612.7 357.8,612.1 366.6,611.5 375.5,610.9 384.4,610.3 393.2,609.7 402.1,609.2 411.0,608.6 419.9,608.1 428.8,607.5 437.6,607.0 446.5,606.5 455.4,606.0 464.2,605.5 473.1,605.0 482.0,604.5 490.9,604.0 499.8,603.6 508.6,603.1 517.5,602.7 526.4,602.2 535.2,601.8 544.1,601.4 553.0,601.0 561.9,600.6 570.7,600.2 579.6,599.8 588.5,599.5 597.4,599.1 606.2,598.8 615.1,598.4 624.0,598.1 632.9,597.8 641.8,597.5 650.6,597.1 659.5,596.9 668.4,596.6 677.2,596.3 686.1,596.0 695.0,595.8 703.9,595.5 712.8,595.3 721.6,595.0 730.5,594.8 739.4,594.6 748.2,594.3 757.1,594.1 766.0,593.9 774.9,593.7 783.8,593.6 792.6,593.4 801.5,593.2 810.4,593.0 819.2,592.9 828.1,592.7 837.0,592.6 845.9,592.4 854.8,592.3 863.6,592.2 872.5,592.1 881.4,591.9 890.2,591.8 899.1,591.7 908.0,591.6 916.9,591.5 925.8,591.5 934.6,591.4 943.5,591.3 952.4,591.2 961.2,591.2 970.1,591.1 979.0,591.0 987.9,591.0 996.8,590.9 1005.6,590.9 1014.5,590.9 1023.4,590.8 1032.2,590.8 1041.1,590.8 1050.0,590.7 1058.9,590.7 1067.8,590.7 1076.6,590.7 1085.5,590.7 1094.4,590.7 1103.2,590.7 1112.1,590.7 1121.0,590.7 1129.9,590.8 1138.8,590.8 1147.6,590.8 1156.5,590.9 1165.4,590.9 1174.2,590.9 1183.1,591.0 1192.0,591.0 1200.9,591.1 1209.8,591.2 1218.6,591.2 1227.5,591.3 1236.4,591.4 1245.2,591.5 1254.1,591.5 1263.0,591.6 1271.9,591.7 1280.8,591.8 1289.6,591.9 1298.5,592.1 1307.4,592.2 1316.2,592.3 1325.1,592.4 1334.0,592.6 1342.9,592.7 1351.8,592.9 1360.6,593.0 1369.5,593.2 1378.4,593.4 1387.2,593.6 1396.1,593.7 1405.0,593.9 1413.9,594.1 1422.8,594.3 1431.6,594.6 1440.5,594.8 1449.4,595.0 1458.2,595.3 1467.1,595.5 1476.0,595.8 1484.9,596.0 1493.8,596.3 1502.6,596.6 1511.5,596.9 1520.4,597.1 1529.2,597.5 1538.1,597.8 1547.0,598.1 1555.9,598.4 1564.8,598.8 1573.6,599.1 1582.5,599.5 1591.4,599.8 1600.2,600.2 1609.1,600.6 1618.0,601.0 1626.9,601.4 1635.8,601.8 1644.6,602.2 1653.5,602.7 1662.4,603.1 1671.2,603.6 1680.1,604.0 1689.0,604.5 1697.9,605.0 1706.8,605.5 1715.6,606.0 1724.5,606.5 1733.4,607.0 1742.2,607.5 1751.1,608.1 1760.0,608.6 1768.9,609.2 1777.8,609.7 1786.6,610.3 1795.5,610.9 1804.4,611.5 1813.2,612.1 1822.1,612.7 1831.0,613.3 1839.9,613.9 1848.8,614.5 1857.6,615.2 1866.5,615.8 1875.4,616.5 1884.2,617.1" fill="none" stroke="#77AC30" stroke-width="6.0" stroke-linejoin="round"/>
<polyline points="286.8,542.4 295.6,543.0 304.5,543.7 313.4,544.3 322.2,545.0 331.1,545.6 340.0,546.2 348.9,546.8 357.8,547.4 366.6,548.0 375.5,548.6 384.4,549.2 393.2,549.8 402.1,550.3 411.0,550.9 419.9,551.4 428.8,552.0 437.6,552.5 446.5,553.0 455.4,553.5 464.2,554.0 473.1,554.5 482.0,555.0 490.9,555.5 499.8,555.9 508.6,556.4 517.5,556.8 526.4,557.3 535.2,557.7 544.1,558.1 553.0,558.5 561.9,558.9 570.7,559.3 579.6,559.7 588.5,560.0 597.4,560.4 606.2,560.7 615.1,561.1 624.0,561.4 632.9,561.7 641.8,562.0 650.6,562.4 659.5,562.6 668.4,562.9 677.2,563.2 686.1,563.5 695.0,563.7 703.9,564.0 712.8,564.2 721.6,564.5 730.5,564.7 739.4,564.9 748.2,565.2 757.1,565.4 766.0,565.6 774.9,565.8 783.8,565.9 792.6,566.1 801.5,566.3 810.4,566.5 819.2,566.6 828.1,566.8 837.0,566.9 845.9,567.1 854.8,567.2 863.6,567.3 872.5,567.4 881.4,567.6 890.2,567.7 899.1,567.8 908.0,567.9 916.9,568.0 925.8,568.0 934.6,568.1 943.5,568.2 952.4,568.3 961.2,568.3 970.1,568.4 979.0,568.5 987.9,568.5 996.8,568.6 1005.6,568.6 1014.5,568.6 1023.4,568.7 1032.2,568.7 1041.1,568.7 1050.0,568.8 1058.9,568.8 1067.8,568.8 1076.6,568.8 1085.5,568.8 1094.4,568.8 1103.2,568.8 1112.1,568.8 1121.0,568.8 1129.9,568.7 1138.8,568.7 1147.6,568.7 1156.5,568.6 1165.4,568.6 1174.2,568.6 1183.1,568.5 1192.0,568.5 1200.9,568.4 1209.8,568.3 1218.6,568.3 1227.5,568.2 1236.4,568.1 1245.2,568.0 1254.1,568.0 1263.0,567.9 1271.9,567.8 1280.8,567.7 1289.6,567.6 1298.5,567.4 1307.4,567.3 1316.2,567.2 1325.1,567.1 1334.0,566.9 1342.9,566.8 1351.8,566.6 1360.6,566.5 1369.5,566.3 1378.4,566.1 1387.2,565.9 1396.1,565.8 1405.0,565.6 1413.9,565.4 1422.8,565.2 1431.6,564.9 1440.5,564.7 1449.4,564.5 1458.2,564.2 1467.1,564.0 1476.0,563.7 1484.9,563.5 1493.8,563.2 1502.6,562.9 1511.5,562.6 1520.4,562.4 1529.2,562.0 1538.1,561.7 1547.0,561.4 1555.9,561.1 1564.8,560.7 1573.6,560.4 1582.5,560.0 1591.4,559.7 1600.2,559.3 1609.1,558.9 1618.0,558.5 1626.9,558.1 1635.8,557.7 1644.6,557.3 1653.5,556.8 1662.4,556.4 1671.2,555.9 1680.1,555.5 1689.0,555.0 1697.9,554.5 1706.8,554.0 1715.6,553.5 1724.5,553.0 1733.4,552.5 1742.2,552.0 1751.1,551.4 1760.0,550.9 1768.9,550.3 1777.8,549.8 1786.6,549.2 1795.5,548.6 1804.4,548.0 1813.2,547.4 1822.1,546.8 1831.0,546.2 1839.9,545.6 1848.8,545.0 1857.6,544.3 1866.5,543.7 1875.4,543.0 1884.2,542.4" fill="none" stroke="#4DBEEE" stroke-width="6.0" stroke-linejoin="round"/>
<polyline points="286.8,542.4 295.6,541.8 304.5,541.1 313.4,540.5 322.2,539.9 331.1,539.2 340.0,538.6 348.9,537.9 357.8,537.3 366.6,536.6 375.5,535.9 384.4,535.2 393.2,534.5 402.1,533.8 411.0,533.1 419.9,532.4 428.8,531.6 437.6,530.9 446.5,530.2 455.4,529.4 464.2,528.7 473.1,528.0 482.0,527.2 490.9,526.5 499.8,525.7 508.6,525.0 517.5,524.2 526.4,523.5 535.2,522.7 544.1,522.0 553.0,521.2 561.9,520.5 570.7,519.8 579.6,519.0 588.5,518.3 597.4,517.5 606.2,516.8 615.1,516.1 624.0,515.4 632.9,514.7 641.8,514.0 650.6,513.3 659.5,512.6 668.4,511.9 677.2,511.2 686.1,510.5 695.0,509.9 703.9,509.2 712.8,508.6 721.6,508.0 730.5,507.3 739.4,506.7 748.2,506.1 757.1,505.5 766.0,505.0 774.9,504.4 783.8,503.9 792.6,503.3 801.5,502.8 810.4,502.3 819.2,501.8 828.1,501.3 837.0,500.8 845.9,500.4 854.8,499.9 863.6,499.5 872.5,499.1 881.4,498.7 890.2,498.3 899.1,497.9 908.0,497.6 916.9,497.2 925.8,496.9 934.6,496.6 943.5,496.3 952.4,496.0 961.2,495.8 970.1,495.6 979.0,495.3 987.9,495.1 996.8,494.9 1005.6,494.8 1014.5,494.6 1023.4,494.5 1032.2,494.4 1041.1,494.3 1050.0,494.2 1058.9,494.1 1067.8,494.1 1076.6,494.1 1085.5,494.1 1094.4,494.1 1103.2,494.1 1112.1,494.1 1121.0,494.2 1129.9,494.3 1138.8,494.4 1147.6,494.5 1156.5,494.6 1165.4,494.8 1174.2,494.9 1183.1,495.1 1192.0,495.3 1200.9,495.6 1209.8,495.8 1218.6,496.0 1227.5,496.3 1236.4,496.6 1245.2,496.9 1254.1,497.2 1263.0,497.6 1271.9,497.9 1280.8,498.3 1289.6,498.7 1298.5,499.1 1307.4,499.5 1316.2,499.9 1325.1,500.4 1334.0,500.8 1342.9,501.3 1351.8,501.8 1360.6,502.3 1369.5,502.8 1378.4,503.3 1387.2,503.9 1396.1,504.4 1405.0,505.0 1413.9,505.5 1422.8,506.1 1431.6,506.7 1440.5,507.3 1449.4,508.0 1458.2,508.6 1467.1,509.2 1476.0,509.9 1484.9,510.5 1493.8,511.2 1502.6,511.9 1511.5,512.6 1520.4,513.3 1529.2,514.0 1538.1,514.7 1547.0,515.4 1555.9,516.1 1564.8,516.8 1573.6,517.5 1582.5,518.3 1591.4,519.0 1600.2,519.8 1609.1,520.5 1618.0,521.2 1626.9,522.0 1635.8,522.7 1644.6,523.5 1653.5,524.2 1662.4,525.0 1671.2,525.7 1680.1,526.5 1689.0,527.2 1697.9,528.0 1706.8,528.7 1715.6,529.4 1724.5,530.2 1733.4,530.9 1742.2,531.6 1751.1,532.4 1760.0,533.1 1768.9,533.8 1777.8,534.5 1786.6,535.2 1795.5,535.9 1804.4,536.6 1813.2,537.3 1822.1,537.9 1831.0,538.6 1839.9,539.2 1848.8,539.9 1857.6,540.5 1866.5,541.1 1875.4,541.8 1884.2,542.4" fill="none" stroke="#A2142F" stroke-width="6.0" stroke-linejoin="round"/>
<polyline points="286.8,458.8 295.6,458.8 304.5,458.8 313.4,458.8 322.2,458.8 331.1,458.7 340.0,458.6 348.9,458.5 357.8,458.3 366.6,458.2 375.5,458.0 384.4,457.8 393.2,457.6 402.1,457.3 411.0,457.1 419.9,456.8 428.8,456.5 437.6,456.2 446.5,455.8 455.4,455.5 464.2,455.1 473.1,454.8 482.0,454.4 490.9,454.0 499.8,453.5 508.6,453.1 517.5,452.7 526.4,452.2 535.2,451.8 544.1,451.3 553.0,450.8 561.9,450.4 570.7,449.9 579.6,449.4 588.5,448.9 597.4,448.4 606.2,447.9 615.1,447.4 624.0,446.9 632.9,446.3 641.8,445.8 650.6,445.3 659.5,444.8 668.4,444.3 677.2,443.8 686.1,443.2 695.0,442.7 703.9,442.2 712.8,441.7 721.6,441.2 730.5,440.7 739.4,440.2 748.2,439.8 757.1,439.3 766.0,438.8 774.9,438.4 783.8,437.9 792.6,437.5 801.5,437.0 810.4,436.6 819.2,436.2 828.1,435.8 837.0,435.4 845.9,435.0 854.8,434.6 863.6,434.2 872.5,433.9 881.4,433.5 890.2,433.2 899.1,432.9 908.0,432.6 916.9,432.3 925.8,432.0 934.6,431.8 943.5,431.5 952.4,431.3 961.2,431.1 970.1,430.8 979.0,430.7 987.9,430.5 996.8,430.3 1005.6,430.2 1014.5,430.0 1023.4,429.9 1032.2,429.8 1041.1,429.7 1050.0,429.7 1058.9,429.6 1067.8,429.6 1076.6,429.5 1085.5,429.5 1094.4,429.5 1103.2,429.6 1112.1,429.6 1121.0,429.7 1129.9,429.7 1138.8,429.8 1147.6,429.9 1156.5,430.0 1165.4,430.2 1174.2,430.3 1183.1,430.5 1192.0,430.7 1200.9,430.8 1209.8,431.1 1218.6,431.3 1227.5,431.5 1236.4,431.8 1245.2,432.0 1254.1,432.3 1263.0,432.6 1271.9,432.9 1280.8,433.2 1289.6,433.5 1298.5,433.9 1307.4,434.2 1316.2,434.6 1325.1,435.0 1334.0,435.4 1342.9,435.8 1351.8,436.2 1360.6,436.6 1369.5,437.0 1378.4,437.5 1387.2,437.9 1396.1,438.4 1405.0,438.8 1413.9,439.3 1422.8,439.8 1431.6,440.2 1440.5,440.7 1449.4,441.2 1458.2,441.7 1467.1,442.2 1476.0,442.7 1484.9,443.2 1493.8,443.8 1502.6,444.3 1511.5,444.8 1520.4,445.3 1529.2,445.8 1538.1,446.3 1547.0,446.9 1555.9,447.4 1564.8,447.9 1573.6,448.4 1582.5,448.9 1591.4,449.4 1600.2,449.9 1609.1,450.4 1618.0,450.8 1626.9,451.3 1635.8,451.8 1644.6,452.2 1653.5,452.7 1662.4,453.1 1671.2,453.5 1680.1,454.0 1689.0,454.4 1697.9,454.8 1706.8,455.1 1715.6,455.5 1724.5,455.8 1733.4,456.2 1742.2,456.5 1751.1,456.8 1760.0,457.1 1768.9,457.3 1777.8,457.6 1786.6,457.8 1795.5,458.0 1804.4,458.2 1813.2,458.3 1822.1,458.5 1831.0,458.6 1839.9,458.7 1848.8,458.8 1857.6,458.8 1866.5,458.8 1875.4,458.8 1884.2,458.8" fill="none" stroke="#0072BD" stroke-width="6.0" stroke-linejoin="round"/>
<polyline points="286.8,458.8 295.6,458.8 304.5,458.8 313.4,458.7 322.2,458.7 331.1,458.6 340.0,458.5 348.9,458.4 357.8,458.2 366.6,458.1 375.5,457.9 384.4,457.7 393.2,457.5 402.1,457.2 411.0,457.0 419.9,456.7 428.8,456.4 437.6,456.1 446.5,455.8 455.4,455.5 464.2,455.1 473.1,454.8 482.0,454.4 490.9,454.0 499.8,453.6 508.6,453.2 517.5,452.7 526.4,452.3 535.2,451.8 544.1,451.3 553.0,450.8 561.9,450.3 570.7,449.8 579.6,449.3 588.5,448.8 597.4,448.2 606.2,447.7 615.1,447.1 624.0,446.6 632.9,446.0 641.8,445.4 650.6,444.8 659.5,444.3 668.4,443.7 677.2,443.1 686.1,442.5 695.0,441.9 703.9,441.3 712.8,440.7 721.6,440.1 730.5,439.5 739.4,439.0 748.2,438.4 757.1,437.8 766.0,437.2 774.9,436.7 783.8,436.1 792.6,435.5 801.5,435.0 810.4,434.4 819.2,433.9 828.1,433.4 837.0,432.9 845.9,432.4 854.8,431.9 863.6,431.4 872.5,431.0 881.4,430.5 890.2,430.1 899.1,429.7 908.0,429.3 916.9,428.9 925.8,428.5 934.6,428.2 943.5,427.8 952.4,427.5 961.2,427.2 970.1,426.9 979.0,426.7 987.9,426.4 996.8,426.2 1005.6,426.0 1014.5,425.8 1023.4,425.7 1032.2,425.5 1041.1,425.4 1050.0,425.3 1058.9,425.3 1067.8,425.2 1076.6,425.2 1085.5,425.2 1094.4,425.2 1103.2,425.2 1112.1,425.3 1121.0,425.3 1129.9,425.4 1138.8,425.5 1147.6,425.7 1156.5,425.8 1165.4,426.0 1174.2,426.2 1183.1,426.4 1192.0,426.7 1200.9,426.9 1209.8,427.2 1218.6,427.5 1227.5,427.8 1236.4,428.2 1245.2,428.5 1254.1,428.9 1263.0,429.3 1271.9,429.7 1280.8,430.1 1289.6,430.5 1298.5,431.0 1307.4,431.4 1316.2,431.9 1325.1,432.4 1334.0,432.9 1342.9,433.4 1351.8,433.9 1360.6,434.4 1369.5,435.0 1378.4,435.5 1387.2,436.1 1396.1,436.7 1405.0,437.2 1413.9,437.8 1422.8,438.4 1431.6,439.0 1440.5,439.5 1449.4,440.1 1458.2,440.7 1467.1,441.3 1476.0,441.9 1484.9,442.5 1493.8,443.1 1502.6,443.7 1511.5,444.3 1520.4,444.8 1529.2,445.4 1538.1,446.0 1547.0,446.6 1555.9,447.1 1564.8,447.7 1573.6,448.2 1582.5,448.8 1591.4,449.3 1600.2,449.8 1609.1,450.3 1618.0,450.8 1626.9,451.3 1635.8,451.8 1644.6,452.3 1653.5,452.7 1662.4,453.2 1671.2,453.6 1680.1,454.0 1689.0,454.4 1697.9,454.8 1706.8,455.1 1715.6,455.5 1724.5,455.8 1733.4,456.1 1742.2,456.4 1751.1,456.7 1760.0,457.0 1768.9,457.2 1777.8,457.5 1786.6,457.7 1795.5,457.9 1804.4,458.1 1813.2,458.2 1822.1,458.4 1831.0,458.5 1839.9,458.6 1848.8,458.7 1857.6,458.7 1866.5,458.8 1875.4,458.8 1884.2,458.8" fill="none" stroke="#D95319" stroke-width="6.0" stroke-linejoin="round"/>
<polyline points="286.8,213.7 295.6,213.7 304.5,213.7 313.4,213.7 322.2,213.7 331.1,213.7 340.0,213.7 348.9,213.7 357.8,213.7 366.6,213.7 375.5,213.7 384.4,213.7 393.2,213.7 402.1,213.7 411.0,213.7 419.9,213.7 428.8,213.7 437.6,213.7 446.5,213.7 455.4,213.7 464.2,213.7 473.1,213.7 482.0,213.7 490.9,213.7 499.8,213.7 508.6,213.7 517.5,213.7 526.4,213.7 535.2,213.7 544.1,213.7 553.0,213.7 561.9,213.7 570.7,213.7 579.6,213.7 588.5,213.7 597.4,213.7 606.2,213.7 615.1,213.7 624.0,213.7 632.9,213.7 641.8,213.7 650.6,213.7 659.5,213.7 668.4,213.7 677.2,213.7 686.1,213.7 695.0,213.7 703.9,213.7 712.8,213.7 721.6,213.7 730.5,213.7 739.4,213.7 748.2,213.7 757.1,213.7 766.0,213.7 774.9,213.7 783.8,213.7 792.6,213.7 801.5,213.7 810.4,213.7 819.2,213.7 828.1,213.7 837.0,213.7 845.9,213.7 854.8,213.7 863.6,213.7 872.5,213.7 881.4,213.7 890.2,213.7 899.1,213.7 908.0,213.7 916.9,213.7 925.8,213.7 934.6,213.7 943.5,213.7 952.4,213.7 961.2,213.7 970.1,213.7 979.0,213.7 987.9,213.7 996.8,213.7 1005.6,213.7 1014.5,213.7 1023.4,213.7 1032.2,213.7 1041.1,213.7 1050.0,213.7 1058.9,213.7 1067.8,213.7 1076.6,213.7 1085.5,213.7 1094.4,213.7 1103.2,213.7 1112.1,213.7 1121.0,213.7 1129.9,213.7 1138.8,213.7 1147.6,213.7 1156.5,213.7 1165.4,213.7 1174.2,213.7 1183.1,213.7 1192.0,213.7 1200.9,213.7 1209.8,213.7 1218.6,213.7 1227.5,213.7 1236.4,213.7 1245.2,213.7 1254.1,213.7 1263.0,213.7 1271.9,213.7 1280.8,213.7 1289.6,213.7 1298.5,213.7 1307.4,213.7 1316.2,213.7 1325.1,213.7 1334.0,213.7 1342.9,213.7 1351.8,213.7 1360.6,213.7 1369.5,213.7 1378.4,213.7 1387.2,213.7 1396.1,213.7 1405.0,213.7 1413.9,213.7 1422.8,213.7 1431.6,213.7 1440.5,213.7 1449.4,213.7 1458.2,213.7 1467.1,213.7 1476.0,213.7 1484.9,213.7 1493.8,213.7 1502.6,213.7 1511.5,213.7 1520.4,213.7 1529.2,213.7 1538.1,213.7 1547.0,213.7 1555.9,213.7 1564.8,213.7 1573.6,213.7 1582.5,213.7 1591.4,213.7 1600.2,213.7 1609.1,213.7 1618.0,213.7 1626.9,213.7 1635.8,213.7 1644.6,213.7 1653.5,213.7 1662.4,213.7 1671.2,213.7 1680.1,213.7 1689.0,213.7 1697.9,213.7 1706.8,213.7 1715.6,213.7 1724.5,213.7 1733.4,213.7 1742.2,213.7 1751.1,213.7 1760.0,213.7 1768.9,213.7 1777.8,213.7 1786.6,213.7 1795.5,213.7 1804.4,213.7 1813.2,213.7 1822.1,213.7 1831.0,213.7 1839.9,213.7 1848.8,213.7 1857.6,213.7 1866.5,213.7 1875.4,213.7 1884.2,213.7" fill="none" stroke="#EDB120" stroke-width="6.0" stroke-linejoin="round"/>
<polyline points="286.8,213.7 295.6,213.7 304.5,213.7 313.4,213.7 322.2,213.7 331.1,213.7 340.0,213.7 348.9,213.7 357.8,213.7 366.6,213.7 375.5,213.7 384.4,213.7 393.2,213.7 402.1,213.7 411.0,213.7 419.9,213.7 428.8,213.7 437.6,213.7 446.5,213.7 455.4,213.7 464.2,213.7 473.1,213.7 482.0,213.7 490.9,213.7 499.8,213.7 508.6,213.7 517.5,213.7 526.4,213.7 535.2,213.7 544.1,213.7 553.0,213.7 561.9,213.7 570.7,213.7 579.6,213.7 588.5,213.7 597.4,213.7 606.2,213.7 615.1,213.7 624.0,213.7 632.9,213.7 641.8,213.7 650.6,213.7 659.5,213.7 668.4,213.7 677.2,213.7 686.1,213.7 695.0,213.7 703.9,213.7 712.8,213.7 721.6,213.7 730.5,213.7 739.4,213.7 748.2,213.7 757.1,213.7 766.0,213.7 774.9,213.7 783.8,213.7 792.6,213.7 801.5,213.7 810.4,213.7 819.2,213.7 828.1,213.7 837.0,213.7 845.9,213.7 854.8,213.7 863.6,213.7 872.5,213.7 881.4,213.7 890.2,213.7 899.1,213.7 908.0,213.7 916.9,213.7 925.8,213.7 934.6,213.7 943.5,213.7 952.4,213.7 961.2,213.7 970.1,213.7 979.0,213.7 987.9,213.7 996.8,213.7 1005.6,213.7 1014.5,213.7 1023.4,213.7 1032.2,213.7 1041.1,213.7 1050.0,213.7 1058.9,213.7 1067.8,213.7 1076.6,213.7 1085.5,213.7 1094.4,213.7 1103.2,213.7 1112.1,213.7 1121.0,213.7 1129.9,213.7 1138.8,213.7 1147.6,213.7 1156.5,213.7 1165.4,213.7 1174.2,213.7 1183.1,213.7 1192.0,213.7 1200.9,213.7 1209.8,213.7 1218.6,213.7 1227.5,213.7 1236.4,213.7 1245.2,213.7 1254.1,213.7 1263.0,213.7 1271.9,213.7 1280.8,213.7 1289.6,213.7 1298.5,213.7 1307.4,213.7 1316.2,213.7 1325.1,213.7 1334.0,213.7 1342.9,213.7 1351.8,213.7 1360.6,213.7 1369.5,213.7 1378.4,213.7 1387.2,213.7 1396.1,213.7 1405.0,213.7 1413.9,213.7 1422.8,213.7 1431.6,213.7 1440.5,213.7 1449.4,213.7 1458.2,213.7 1467.1,213.7 1476.0,213.7 1484.9,213.7 1493.8,213.7 1502.6,213.7 1511.5,213.7 1520.4,213.7 1529.2,213.7 1538.1,213.7 1547.0,213.7 1555.9,213.7 1564.8,213.7 1573.6,213.7 1582.5,213.7 1591.4,213.7 1600.2,213.7 1609.1,213.7 1618.0,213.7 1626.9,213.7 1635.8,213.7 1644.6,213.7 1653.5,213.7 1662.4,213.7 1671.2,213.7 1680.1,213.7 1689.0,213.7 1697.9,213.7 1706.8,213.7 1715.6,213.7 1724.5,213.7 1733.4,213.7 1742.2,213.7 1751.1,213.7 1760.0,213.7 1768.9,213.7 1777.8,213.7 1786.6,213.7 1795.5,213.7 1804.4,213.7 1813.2,213.7 1822.1,213.7 1831.0,213.7 1839.9,213.7 1848.8,213.7 1857.6,213.7 1866.5,213.7 1875.4,213.7 1884.2,213.7" fill="none" stroke="#7E2F8E" stroke-width="6.0" stroke-linejoin="round"/>
<polyline points="286.8,160.0 295.6,160.8 304.5,161.6 313.4,162.4 322.2,163.2 331.1,163.9 340.0,164.7 348.9,165.5 357.8,166.3 366.6,167.0 375.5,167.8 384.4,168.5 393.2,169.3 402.1,170.1 411.0,170.8 419.9,171.6 428.8,172.3 437.6,173.1 446.5,173.8 455.4,174.6 464.2,175.3 473.1,176.1 482.0,176.9 490.9,177.6 499.8,178.4 508.6,179.1 517.5,179.9 526.4,180.6 535.2,181.4 544.1,182.1 553.0,182.9 561.9,183.6 570.7,184.4 579.6,185.1 588.5,185.9 597.4,186.6 606.2,187.4 615.1,188.1 624.0,188.9 632.9,189.6 641.8,190.4 650.6,191.1 659.5,191.8 668.4,192.6 677.2,193.3 686.1,194.0 695.0,194.7 703.9,195.4 712.8,196.1 721.6,196.8 730.5,197.5 739.4,198.2 748.2,198.9 757.1,199.6 766.0,200.2 774.9,200.9 783.8,201.5 792.6,202.1 801.5,202.7 810.4,203.4 819.2,203.9 828.1,204.5 837.0,205.1 845.9,205.6 854.8,206.2 863.6,206.7 872.5,207.2 881.4,207.7 890.2,208.2 899.1,208.6 908.0,209.1 916.9,209.5 925.8,209.9 934.6,210.3 943.5,210.7 952.4,211.0 961.2,211.3 970.1,211.6 979.0,211.9 987.9,212.2 996.8,212.4 1005.6,212.6 1014.5,212.8 1023.4,213.0 1032.2,213.2 1041.1,213.3 1050.0,213.4 1058.9,213.5 1067.8,213.5 1076.6,213.6 1085.5,213.6 1094.4,213.6 1103.2,213.5 1112.1,213.5 1121.0,213.4 1129.9,213.3 1138.8,213.2 1147.6,213.0 1156.5,212.8 1165.4,212.6 1174.2,212.4 1183.1,212.2 1192.0,211.9 1200.9,211.6 1209.8,211.3 1218.6,211.0 1227.5,210.7 1236.4,210.3 1245.2,209.9 1254.1,209.5 1263.0,209.1 1271.9,208.6 1280.8,208.2 1289.6,207.7 1298.5,207.2 1307.4,206.7 1316.2,206.2 1325.1,205.6 1334.0,205.1 1342.9,204.5 1351.8,203.9 1360.6,203.4 1369.5,202.7 1378.4,202.1 1387.2,201.5 1396.1,200.9 1405.0,200.2 1413.9,199.6 1422.8,198.9 1431.6,198.2 1440.5,197.5 1449.4,196.8 1458.2,196.1 1467.1,195.4 1476.0,194.7 1484.9,194.0 1493.8,193.3 1502.6,192.6 1511.5,191.8 1520.4,191.1 1529.2,190.4 1538.1,189.6 1547.0,188.9 1555.9,188.1 1564.8,187.4 1573.6,186.6 1582.5,185.9 1591.4,185.1 1600.2,184.4 1609.1,183.6 1618.0,182.9 1626.9,182.1 1635.8,181.4 1644.6,180.6 1653.5,179.9 1662.4,179.1 1671.2,178.4 1680.1,177.6 1689.0,176.9 1697.9,176.1 1706.8,175.3 1715.6,174.6 1724.5,173.8 1733.4,173.1 1742.2,172.3 1751.1,171.6 1760.0,170.8 1768.9,170.1 1777.8,169.3 1786.6,168.5 1795.5,167.8 1804.4,167.0 1813.2,166.3 1822.1,165.5 1831.0,164.7 1839.9,163.9 1848.8,163.2 1857.6,162.4 1866.5,161.6 1875.4,160.8 1884.2,160.0" fill="none" stroke="#77AC30" stroke-width="6.0" stroke-linejoin="round"/>
<polyline points="286.8,160.0 295.6,160.2 304.5,160.4 313.4,160.7 322.2,161.0 331.1,161.3 340.0,161.6 348.9,162.0 357.8,162.4 366.6,162.8 375.5,163.2 384.4,163.7 393.2,164.1 402.1,164.6 411.0,165.2 419.9,165.7 428.8,166.2 437.6,166.8 446.5,167.4 455.4,168.0 464.2,168.6 473.1,169.2 482.0,169.9 490.9,170.5 499.8,171.2 508.6,171.8 517.5,172.5 526.4,173.2 535.2,173.9 544.1,174.5 553.0,175.2 561.9,175.9 570.7,176.6 579.6,177.3 588.5,178.0 597.4,178.7 606.2,179.4 615.1,180.1 624.0,180.8 632.9,181.5 641.8,182.1 650.6,182.8 659.5,183.5 668.4,184.1 677.2,184.8 686.1,185.4 695.0,186.1 703.9,186.7 712.8,187.3 721.6,187.9 730.5,188.5 739.4,189.1 748.2,189.7 757.1,190.3 766.0,190.8 774.9,191.3 783.8,191.9 792.6,192.4 801.5,192.9 810.4,193.4 819.2,193.8 828.1,194.3 837.0,194.8 845.9,195.2 854.8,195.6 863.6,196.0 872.5,196.4 881.4,196.8 890.2,197.1 899.1,197.5 908.0,197.8 916.9,198.1 925.8,198.4 934.6,198.7 943.5,198.9 952.4,199.2 961.2,199.4 970.1,199.6 979.0,199.8 987.9,200.0 996.8,200.2 1005.6,200.3 1014.5,200.4 1023.4,200.6 1032.2,200.7 1041.1,200.8 1050.0,200.8 1058.9,200.9 1067.8,200.9 1076.6,201.0 1085.5,201.0 1094.4,201.0 1103.2,200.9 1112.1,200.9 1121.0,200.8 1129.9,200.8 1138.8,200.7 1147.6,200.6 1156.5,200.4 1165.4,200.3 1174.2,200.2 1183.1,200.0 1192.0,199.8 1200.9,199.6 1209.8,199.4 1218.6,199.2 1227.5,198.9 1236.4,198.7 1245.2,198.4 1254.1,198.1 1263.0,197.8 1271.9,197.5 1280.8,197.1 1289.6,196.8 1298.5,196.4 1307.4,196.0 1316.2,195.6 1325.1,195.2 1334.0,194.8 1342.9,194.3 1351.8,193.8 1360.6,193.4 1369.5,192.9 1378.4,192.4 1387.2,191.9 1396.1,191.3 1405.0,190.8 1413.9,190.3 1422.8,189.7 1431.6,189.1 1440.5,188.5 1449.4,187.9 1458.2,187.3 1467.1,186.7 1476.0,186.1 1484.9,185.4 1493.8,184.8 1502.6,184.1 1511.5,183.5 1520.4,182.8 1529.2,182.1 1538.1,181.5 1547.0,180.8 1555.9,180.1 1564.8,179.4 1573.6,178.7 1582.5,178.0 1591.4,177.3 1600.2,176.6 1609.1,175.9 1618.0,175.2 1626.9,174.5 1635.8,173.9 1644.6,173.2 1653.5,172.5 1662.4,171.8 1671.2,171.2 1680.1,170.5 1689.0,169.9 1697.9,169.2 1706.8,168.6 1715.6,168.0 1724.5,167.4 1733.4,166.8 1742.2,166.2 1751.1,165.7 1760.0,165.2 1768.9,164.6 1777.8,164.1 1786.6,163.7 1795.5,163.2 1804.4,162.8 1813.2,162.4 1822.1,162.0 1831.0,161.6 1839.9,161.3 1848.8,161.0 1857.6,160.7 1866.5,160.4 1875.4,160.2 1884.2,160.0" fill="none" stroke="#4DBEEE" stroke-width="6.0" stroke-linejoin="round"/>
<polyline points="286.8,157.8 295.6,157.5 304.5,157.3 313.4,157.1 322.2,156.9 331.1,156.7 340.0,156.6 348.9,156.4 357.8,156.4 366.6,156.3 375.5,156.3 384.4,156.3 393.2,156.3 402.1,156.3 411.0,156.4 419.9,156.5 428.8,156.6 437.6,156.7 446.5,156.8 455.4,157.0 464.2,157.2 473.1,157.4 482.0,157.6 490.9,157.9 499.8,158.1 508.6,158.4 517.5,158.7 526.4,158.9 535.2,159.3 544.1,159.6 553.0,159.9 561.9,160.2 570.7,160.6 579.6,160.9 588.5,161.3 597.4,161.7 606.2,162.0 615.1,162.4 624.0,162.8 632.9,163.2 641.8,163.6 650.6,164.0 659.5,164.4 668.4,164.8 677.2,165.2 686.1,165.6 695.0,165.9 703.9,166.3 712.8,166.7 721.6,167.1 730.5,167.5 739.4,167.9 748.2,168.3 757.1,168.6 766.0,169.0 774.9,169.4 783.8,169.7 792.6,170.1 801.5,170.4 810.4,170.8 819.2,171.1 828.1,171.4 837.0,171.7 845.9,172.0 854.8,172.3 863.6,172.6 872.5,172.9 881.4,173.2 890.2,173.4 899.1,173.7 908.0,173.9 916.9,174.1 925.8,174.3 934.6,174.5 943.5,174.7 952.4,174.9 961.2,175.1 970.1,175.3 979.0,175.4 987.9,175.5 996.8,175.7 1005.6,175.8 1014.5,175.9 1023.4,176.0 1032.2,176.1 1041.1,176.1 1050.0,176.2 1058.9,176.2 1067.8,176.3 1076.6,176.3 1085.5,176.3 1094.4,176.3 1103.2,176.3 1112.1,176.2 1121.0,176.2 1129.9,176.1 1138.8,176.1 1147.6,176.0 1156.5,175.9 1165.4,175.8 1174.2,175.7 1183.1,175.5 1192.0,175.4 1200.9,175.3 1209.8,175.1 1218.6,174.9 1227.5,174.7 1236.4,174.5 1245.2,174.3 1254.1,174.1 1263.0,173.9 1271.9,173.7 1280.8,173.4 1289.6,173.2 1298.5,172.9 1307.4,172.6 1316.2,172.3 1325.1,172.0 1334.0,171.7 1342.9,171.4 1351.8,171.1 1360.6,170.8 1369.5,170.4 1378.4,170.1 1387.2,169.7 1396.1,169.4 1405.0,169.0 1413.9,168.6 1422.8,168.3 1431.6,167.9 1440.5,167.5 1449.4,167.1 1458.2,166.7 1467.1,166.3 1476.0,165.9 1484.9,165.6 1493.8,165.2 1502.6,164.8 1511.5,164.4 1520.4,164.0 1529.2,163.6 1538.1,163.2 1547.0,162.8 1555.9,162.4 1564.8,162.0 1573.6,161.7 1582.5,161.3 1591.4,160.9 1600.2,160.6 1609.1,160.2 1618.0,159.9 1626.9,159.6 1635.8,159.3 1644.6,158.9 1653.5,158.7 1662.4,158.4 1671.2,158.1 1680.1,157.9 1689.0,157.6 1697.9,157.4 1706.8,157.2 1715.6,157.0 1724.5,156.8 1733.4,156.7 1742.2,156.6 1751.1,156.5 1760.0,156.4 1768.9,156.3 1777.8,156.3 1786.6,156.3 1795.5,156.3 1804.4,156.3 1813.2,156.4 1822.1,156.4 1831.0,156.6 1839.9,156.7 1848.8,156.9 1857.6,157.1 1866.5,157.3 1875.4,157.5 1884.2,157.8" fill="none" stroke="#A2142F" stroke-width="6.0" stroke-linejoin="round"/>
<polyline points="286.8,157.8 295.6,157.3 304.5,156.7 313.4,156.1 322.2,155.5 331.1,154.9 340.0,154.3 348.9,153.6 357.8,153.0 366.6,152.4 375.5,151.8 384.4,151.1 393.2,150.5 402.1,149.9 411.0,149.3 419.9,148.6 428.8,148.0 437.6,147.4 446.5,146.7 455.4,146.1 464.2,145.5 473.1,144.9 482.0,144.2 490.9,143.6 499.8,143.0 508.6,142.4 517.5,141.8 526.4,141.2 535.2,140.6 544.1,140.1 553.0,139.5 561.9,138.9 570.7,138.4 579.6,137.8 588.5,137.3 597.4,136.7 606.2,136.2 615.1,135.7 624.0,135.2 632.9,134.7 641.8,134.2 650.6,133.7 659.5,133.2 668.4,132.8 677.2,132.3 686.1,131.9 695.0,131.4 703.9,131.0 712.8,130.6 721.6,130.2 730.5,129.8 739.4,129.4 748.2,129.1 757.1,128.7 766.0,128.4 774.9,128.0 783.8,127.7 792.6,127.4 801.5,127.1 810.4,126.8 819.2,126.5 828.1,126.2 837.0,126.0 845.9,125.7 854.8,125.5 863.6,125.3 872.5,125.0 881.4,124.8 890.2,124.6 899.1,124.4 908.0,124.3 916.9,124.1 925.8,123.9 934.6,123.8 943.5,123.6 952.4,123.5 961.2,123.4 970.1,123.3 979.0,123.1 987.9,123.1 996.8,123.0 1005.6,122.9 1014.5,122.8 1023.4,122.7 1032.2,122.7 1041.1,122.6 1050.0,122.6 1058.9,122.6 1067.8,122.6 1076.6,122.5 1085.5,122.5 1094.4,122.5 1103.2,122.6 1112.1,122.6 1121.0,122.6 1129.9,122.6 1138.8,122.7 1147.6,122.7 1156.5,122.8 1165.4,122.9 1174.2,123.0 1183.1,123.1 1192.0,123.1 1200.9,123.3 1209.8,123.4 1218.6,123.5 1227.5,123.6 1236.4,123.8 1245.2,123.9 1254.1,124.1 1263.0,124.3 1271.9,124.4 1280.8,124.6 1289.6,124.8 1298.5,125.0 1307.4,125.3 1316.2,125.5 1325.1,125.7 1334.0,126.0 1342.9,126.2 1351.8,126.5 1360.6,126.8 1369.5,127.1 1378.4,127.4 1387.2,127.7 1396.1,128.0 1405.0,128.4 1413.9,128.7 1422.8,129.1 1431.6,129.4 1440.5,129.8 1449.4,130.2 1458.2,130.6 1467.1,131.0 1476.0,131.4 1484.9,131.9 1493.8,132.3 1502.6,132.8 1511.5,133.2 1520.4,133.7 1529.2,134.2 1538.1,134.7 1547.0,135.2 1555.9,135.7 1564.8,136.2 1573.6,136.7 1582.5,137.3 1591.4,137.8 1600.2,138.4 1609.1,138.9 1618.0,139.5 1626.9,140.1 1635.8,140.6 1644.6,141.2 1653.5,141.8 1662.4,142.4 1671.2,143.0 1680.1,143.6 1689.0,144.2 1697.9,144.9 1706.8,145.5 1715.6,146.1 1724.5,146.7 1733.4,147.4 1742.2,148.0 1751.1,148.6 1760.0,149.3 1768.9,149.9 1777.8,150.5 1786.6,151.1 1795.5,151.8 1804.4,152.4 1813.2,153.0 1822.1,153.6 1831.0,154.3 1839.9,154.9 1848.8,155.5 1857.6,156.1 1866.5,156.7 1875.4,157.3 1884.2,157.8" fill="none" stroke="#0072BD" stroke-width="6.0" stroke-linejoin="round"/>
<polyline points="286.8,124.5 295.6,124.6 304.5,124.8 313.4,124.9 322.2,125.0 331.1,125.1 340.0,125.1 348.9,125.2 357.8,125.2 366.6,125.2 375.5,125.2 384.4,125.2 393.2,125.1 402.1,125.1 411.0,125.0 419.9,124.9 428.8,124.8 437.6,124.7 446.5,124.6 455.4,124.4 464.2,124.3 473.1,124.1 482.0,124.0 490.9,123.8 499.8,123.6 508.6,123.4 517.5,123.2 526.4,123.0 535.2,122.7 544.1,122.5 553.0,122.3 561.9,122.0 570.7,121.8 579.6,121.5 588.5,121.3 597.4,121.0 606.2,120.7 615.1,120.5 624.0,120.2 632.9,119.9 641.8,119.7 650.6,119.4 659.5,119.1 668.4,118.8 677.2,118.6 686.1,118.3 695.0,118.0 703.9,117.7 712.8,117.5 721.6,117.2 730.5,116.9 739.4,116.7 748.2,116.4 757.1,116.2 766.0,115.9 774.9,115.7 783.8,115.4 792.6,115.2 801.5,114.9 810.4,114.7 819.2,114.5 828.1,114.3 837.0,114.0 845.9,113.8 854.8,113.6 863.6,113.4 872.5,113.2 881.4,113.1 890.2,112.9 899.1,112.7 908.0,112.6 916.9,112.4 925.8,112.3 934.6,112.1 943.5,112.0 952.4,111.9 961.2,111.7 970.1,111.6 979.0,111.5 987.9,111.4 996.8,111.3 1005.6,111.3 1014.5,111.2 1023.4,111.1 1032.2,111.1 1041.1,111.0 1050.0,111.0 1058.9,111.0 1067.8,111.0 1076.6,110.9 1085.5,110.9 1094.4,110.9 1103.2,111.0 1112.1,111.0 1121.0,111.0 1129.9,111.0 1138.8,111.1 1147.6,111.1 1156.5,111.2 1165.4,111.3 1174.2,111.3 1183.1,111.4 1192.0,111.5 1200.9,111.6 1209.8,111.7 1218.6,111.9 1227.5,112.0 1236.4,112.1 1245.2,112.3 1254.1,112.4 1263.0,112.6 1271.9,112.7 1280.8,112.9 1289.6,113.1 1298.5,113.2 1307.4,113.4 1316.2,113.6 1325.1,113.8 1334.0,114.0 1342.9,114.3 1351.8,114.5 1360.6,114.7 1369.5,114.9 1378.4,115.2 1387.2,115.4 1396.1,115.7 1405.0,115.9 1413.9,116.2 1422.8,116.4 1431.6,116.7 1440.5,116.9 1449.4,117.2 1458.2,117.5 1467.1,117.7 1476.0,118.0 1484.9,118.3 1493.8,118.6 1502.6,118.8 1511.5,119.1 1520.4,119.4 1529.2,119.7 1538.1,119.9 1547.0,120.2 1555.9,120.5 1564.8,120.7 1573.6,121.0 1582.5,121.3 1591.4,121.5 1600.2,121.8 1609.1,122.0 1618.0,122.3 1626.9,122.5 1635.8,122.7 1644.6,123.0 1653.5,123.2 1662.4,123.4 1671.2,123.6 1680.1,123.8 1689.0,124.0 1697.9,124.1 1706.8,124.3 1715.6,124.4 1724.5,124.6 1733.4,124.7 1742.2,124.8 1751.1,124.9 1760.0,125.0 1768.9,125.1 1777.8,125.1 1786.6,125.2 1795.5,125.2 1804.4,125.2 1813.2,125.2 1822.1,125.2 1831.0,125.1 1839.9,125.1 1848.8,125.0 1857.6,124.9 1866.5,124.8 1875.4,124.6 1884.2,124.5" fill="none" stroke="#D95319" stroke-width="6.0" stroke-linejoin="round"/>
<polyline points="286.8,122.5 295.6,122.1 304.5,121.8 313.4,121.4 322.2,121.1 331.1,120.7 340.0,120.3 348.9,120.0 357.8,119.6 366.6,119.2 375.5,118.9 384.4,118.5 393.2,118.1 402.1,117.7 411.0,117.3 419.9,116.9 428.8,116.6 437.6,116.2 446.5,115.8 455.4,115.4 464.2,115.0 473.1,114.6 482.0,114.2 490.9,113.8 499.8,113.4 508.6,113.0 517.5,112.6 526.4,112.2 535.2,111.9 544.1,111.5 553.0,111.1 561.9,110.7 570.7,110.3 579.6,110.0 588.5,109.6 597.4,109.2 606.2,108.9 615.1,108.5 624.0,108.1 632.9,107.8 641.8,107.4 650.6,107.1 659.5,106.8 668.4,106.4 677.2,106.1 686.1,105.8 695.0,105.5 703.9,105.1 712.8,104.8 721.6,104.5 730.5,104.2 739.4,103.9 748.2,103.7 757.1,103.4 766.0,103.1 774.9,102.8 783.8,102.6 792.6,102.3 801.5,102.1 810.4,101.9 819.2,101.6 828.1,101.4 837.0,101.2 845.9,101.0 854.8,100.8 863.6,100.6 872.5,100.4 881.4,100.2 890.2,100.0 899.1,99.9 908.0,99.7 916.9,99.6 925.8,99.4 934.6,99.3 943.5,99.2 952.4,99.0 961.2,98.9 970.1,98.8 979.0,98.7 987.9,98.6 996.8,98.5 1005.6,98.5 1014.5,98.4 1023.4,98.4 1032.2,98.3 1041.1,98.3 1050.0,98.2 1058.9,98.2 1067.8,98.2 1076.6,98.2 1085.5,98.2 1094.4,98.2 1103.2,98.2 1112.1,98.2 1121.0,98.2 1129.9,98.3 1138.8,98.3 1147.6,98.4 1156.5,98.4 1165.4,98.5 1174.2,98.5 1183.1,98.6 1192.0,98.7 1200.9,98.8 1209.8,98.9 1218.6,99.0 1227.5,99.2 1236.4,99.3 1245.2,99.4 1254.1,99.6 1263.0,99.7 1271.9,99.9 1280.8,100.0 1289.6,100.2 1298.5,100.4 1307.4,100.6 1316.2,100.8 1325.1,101.0 1334.0,101.2 1342.9,101.4 1351.8,101.6 1360.6,101.9 1369.5,102.1 1378.4,102.3 1387.2,102.6 1396.1,102.8 1405.0,103.1 1413.9,103.4 1422.8,103.7 1431.6,103.9 1440.5,104.2 1449.4,104.5 1458.2,104.8 1467.1,105.1 1476.0,105.5 1484.9,105.8 1493.8,106.1 1502.6,106.4 1511.5,106.8 1520.4,107.1 1529.2,107.4 1538.1,107.8 1547.0,108.1 1555.9,108.5 1564.8,108.9 1573.6,109.2 1582.5,109.6 1591.4,110.0 1600.2,110.3 1609.1,110.7 1618.0,111.1 1626.9,111.5 1635.8,111.9 1644.6,112.2 1653.5,112.6 1662.4,113.0 1671.2,113.4 1680.1,113.8 1689.0,114.2 1697.9,114.6 1706.8,115.0 1715.6,115.4 1724.5,115.8 1733.4,116.2 1742.2,116.6 1751.1,116.9 1760.0,117.3 1768.9,117.7 1777.8,118.1 1786.6,118.5 1795.5,118.9 1804.4,119.2 1813.2,119.6 1822.1,120.0 1831.0,120.3 1839.9,120.7 1848.8,121.1 1857.6,121.4 1866.5,121.8 1875.4,122.1 1884.2,122.5" fill="none" stroke="#EDB120" stroke-width="6.0" stroke-linejoin="round"/>
<rect x="199.5" y="91.7" width="1773.0" height="976.0999999999999" fill="none" stroke="#999" stroke-width="3.2"/>
<path d="M375.5,1067.8v-20M375.5,91.7v20M553.0,1067.8v-20M553.0,91.7v20M730.5,1067.8v-20M730.5,91.7v20M908.0,1067.8v-20M908.0,91.7v20M1085.5,1067.8v-20M1085.5,91.7v20M1263.0,1067.8v-20M1263.0,91.7v20M1440.5,1067.8v-20M1440.5,91.7v20M1618.0,1067.8v-20M1618.0,91.7v20M1795.5,1067.8v-20M1795.5,91.7v20M199.5,335.7h20M1972.5,335.7h-20M199.5,579.8h20M1972.5,579.8h-20M199.5,823.8h20M1972.5,823.8h-20" stroke="#333" stroke-width="2" fill="none"/>
<text transform="translate(185.0,110.7) scale(0.9,1)" text-anchor="end" font-family="Liberation Serif, serif" font-weight="bold" font-size="56" fill="#1a1a1a">10</text>
<text transform="translate(185.0,354.7) scale(0.9,1)" text-anchor="end" font-family="Liberation Serif, serif" font-weight="bold" font-size="56" fill="#1a1a1a">5</text>
<text transform="translate(185.0,598.8) scale(0.9,1)" text-anchor="end" font-family="Liberation Serif, serif" font-weight="bold" font-size="56" fill="#1a1a1a">0</text>
<text transform="translate(185.0,842.8) scale(0.9,1)" text-anchor="end" font-family="Liberation Serif, serif" font-weight="bold" font-size="56" fill="#1a1a1a">-5</text>
<text transform="translate(185.0,1086.8) scale(0.9,1)" text-anchor="end" font-family="Liberation Serif, serif" font-weight="bold" font-size="56" fill="#1a1a1a">-10</text>
<text transform="translate(198.0,1134.5) scale(0.89,1)" text-anchor="middle" font-family="Liberation Serif, serif" font-weight="bold" font-size="56" fill="#1a1a1a">-0.5</text>
<text transform="translate(375.5,1134.5) scale(0.89,1)" text-anchor="middle" font-family="Liberation Serif, serif" font-weight="bold" font-size="56" fill="#1a1a1a">-0.4</text>
<text transform="translate(553.0,1134.5) scale(0.89,1)" text-anchor="middle" font-family="Liberation Serif, serif" font-weight="bold" font-size="56" fill="#1a1a1a">-0.3</text>
<text transform="translate(730.5,1134.5) scale(0.89,1)" text-anchor="middle" font-family="Liberation Serif, serif" font-weight="bold" font-size="56" fill="#1a1a1a">-0.2</text>
<text transform="translate(908.0,1134.5) scale(0.89,1)" text-anchor="middle" font-family="Liberation Serif, serif" font-weight="bold" font-size="56" fill="#1a1a1a">-0.1</text>
<text transform="translate(1085.5,1134.5) scale(0.89,1)" text-anchor="middle" font-family="Liberation Serif, serif" font-weight="bold" font-size="56" fill="#1a1a1a">0</text>
<text transform="translate(1263.0,1134.5) scale(0.89,1)" text-anchor="middle" font-family="Liberation Serif, serif" font-weight="bold" font-size="56" fill="#1a1a1a">0.1</text>
<text transform="translate(1440.5,1134.5) scale(0.89,1)" text-anchor="middle" font-family="Liberation Serif, serif" font-weight="bold" font-size="56" fill="#1a1a1a">0.2</text>
<text transform="translate(1618.0,1134.5) scale(0.89,1)" text-anchor="middle" font-family="Liberation Serif, serif" font-weight="bold" font-size="56" fill="#1a1a1a">0.3</text>
<text transform="translate(1795.5,1134.5) scale(0.89,1)" text-anchor="middle" font-family="Liberation Serif, serif" font-weight="bold" font-size="56" fill="#1a1a1a">0.4</text>
<text transform="translate(1973.0,1134.5) scale(0.89,1)" text-anchor="middle" font-family="Liberation Serif, serif" font-weight="bold" font-size="56" fill="#1a1a1a">0.5</text>
<text transform="translate(1085.3,69.7) scale(0.908,1)" text-anchor="middle" font-family="Liberation Serif, serif" font-weight="bold" font-size="60.3" fill="#000">Bandstructure of Alpha Graphyne</text>
<text transform="translate(1084.3,1203.5) scale(0.92,1)" text-anchor="middle" font-family="Liberation Serif, serif" font-weight="bold" font-size="60.3" fill="#262626">Wavenumber,K(rad)</text>
<text transform="translate(101.2,578.1) scale(0.898,1) rotate(-90)" text-anchor="middle" font-family="Liberation Serif, serif" font-weight="bold" font-size="60.3" fill="#262626">Energy, E(eV)</text>
</g>
<text transform="translate(1045.5,1303.3) scale(0.97,1)" text-anchor="middle" font-family="Liberation Serif, serif" font-size="82.9" fill="#000">(<tspan font-weight="bold">a</tspan>)</text>
<g id="pb">
<path d="M332.7,1417.3V2373.1M520.2,1417.3V2373.1M707.7,1417.3V2373.1M895.2,1417.3V2373.1M1082.7,1417.3V2373.1M1270.2,1417.3V2373.1M1457.7,1417.3V2373.1M1645.2,1417.3V2373.1M1832.7,1417.3V2373.1M153.5,1447.2H2020.3M153.5,1596.7H2020.3M153.5,1746.2H2020.3M153.5,1895.7H2020.3M153.5,2045.2H2020.3M153.5,2194.7H2020.3M153.5,2344.2H2020.3" stroke="#e6e6e6" stroke-width="2.2" fill="none"/>
<polyline points="239.0,2266.2 248.3,2266.2 257.7,2266.3 267.1,2266.4 276.5,2266.6 285.8,2266.9 295.2,2267.2 304.6,2267.6 313.9,2268.0 323.3,2268.5 332.7,2269.0 342.1,2269.6 351.5,2270.3 360.8,2271.0 370.2,2271.7 379.6,2272.5 389.0,2273.4 398.3,2274.3 407.7,2275.3 417.1,2276.3 426.5,2277.4 435.8,2278.5 445.2,2279.7 454.6,2280.9 464.0,2282.2 473.3,2283.5 482.7,2284.8 492.1,2286.2 501.5,2287.6 510.8,2289.1 520.2,2290.6 529.6,2292.1 538.9,2293.7 548.3,2295.3 557.7,2296.9 567.1,2298.6 576.5,2300.3 585.8,2302.0 595.2,2303.7 604.6,2305.4 614.0,2307.2 623.3,2309.0 632.7,2310.7 642.1,2312.5 651.5,2314.3 660.8,2316.2 670.2,2318.0 679.6,2319.8 689.0,2321.6 698.3,2323.4 707.7,2325.2 717.1,2327.0 726.5,2328.8 735.8,2330.5 745.2,2332.3 754.6,2334.0 764.0,2335.8 773.3,2337.5 782.7,2339.1 792.1,2340.8 801.5,2342.4 810.8,2344.0 820.2,2345.6 829.6,2347.1 839.0,2348.6 848.3,2350.0 857.7,2351.4 867.1,2352.8 876.5,2354.1 885.8,2355.4 895.2,2356.6 904.6,2357.8 914.0,2358.9 923.3,2360.0 932.7,2361.0 942.1,2362.0 951.5,2362.9 960.8,2363.8 970.2,2364.6 979.6,2365.3 989.0,2366.0 998.3,2366.6 1007.7,2367.1 1017.1,2367.6 1026.5,2368.1 1035.8,2368.4 1045.2,2368.7 1054.6,2368.9 1064.0,2369.1 1073.3,2369.2 1082.7,2369.2 1092.1,2369.2 1101.5,2369.1 1110.8,2368.9 1120.2,2368.7 1129.6,2368.4 1139.0,2368.1 1148.3,2367.6 1157.7,2367.1 1167.1,2366.6 1176.5,2366.0 1185.8,2365.3 1195.2,2364.6 1204.6,2363.8 1214.0,2362.9 1223.3,2362.0 1232.7,2361.0 1242.1,2360.0 1251.5,2358.9 1260.8,2357.8 1270.2,2356.6 1279.6,2355.4 1289.0,2354.1 1298.3,2352.8 1307.7,2351.4 1317.1,2350.0 1326.5,2348.6 1335.8,2347.1 1345.2,2345.6 1354.6,2344.0 1364.0,2342.4 1373.3,2340.8 1382.7,2339.1 1392.1,2337.5 1401.5,2335.8 1410.8,2334.0 1420.2,2332.3 1429.6,2330.5 1439.0,2328.8 1448.3,2327.0 1457.7,2325.2 1467.1,2323.4 1476.5,2321.6 1485.8,2319.8 1495.2,2318.0 1504.6,2316.2 1514.0,2314.3 1523.3,2312.5 1532.7,2310.7 1542.1,2309.0 1551.5,2307.2 1560.8,2305.4 1570.2,2303.7 1579.6,2302.0 1589.0,2300.3 1598.3,2298.6 1607.7,2296.9 1617.1,2295.3 1626.5,2293.7 1635.8,2292.1 1645.2,2290.6 1654.6,2289.1 1664.0,2287.6 1673.3,2286.2 1682.7,2284.8 1692.1,2283.5 1701.5,2282.2 1710.8,2280.9 1720.2,2279.7 1729.6,2278.5 1739.0,2277.4 1748.3,2276.3 1757.7,2275.3 1767.1,2274.3 1776.5,2273.4 1785.8,2272.5 1795.2,2271.7 1804.6,2271.0 1813.9,2270.3 1823.3,2269.6 1832.7,2269.0 1842.1,2268.5 1851.5,2268.0 1860.8,2267.6 1870.2,2267.2 1879.6,2266.9 1889.0,2266.6 1898.3,2266.4 1907.7,2266.3 1917.1,2266.2 1926.5,2266.2" fill="none" stroke="#c0653a" stroke-width="5.0" stroke-linejoin="round"/>
<polyline points="239.0,2266.2 248.3,2266.1 257.7,2266.1 267.1,2266.2 276.5,2266.3 285.8,2266.6 295.2,2266.9 304.6,2267.2 313.9,2267.6 323.3,2268.1 332.7,2268.7 342.1,2269.3 351.5,2270.0 360.8,2270.7 370.2,2271.5 379.6,2272.4 389.0,2273.3 398.3,2274.3 407.7,2275.3 417.1,2276.3 426.5,2277.4 435.8,2278.6 445.2,2279.8 454.6,2281.0 464.0,2282.3 473.3,2283.6 482.7,2284.9 492.1,2286.3 501.5,2287.7 510.8,2289.1 520.2,2290.6 529.6,2292.0 538.9,2293.5 548.3,2295.0 557.7,2296.6 567.1,2298.1 576.5,2299.7 585.8,2301.2 595.2,2302.8 604.6,2304.4 614.0,2305.9 623.3,2307.5 632.7,2309.1 642.1,2310.7 651.5,2312.3 660.8,2313.8 670.2,2315.4 679.6,2316.9 689.0,2318.5 698.3,2320.0 707.7,2321.5 717.1,2323.0 726.5,2324.5 735.8,2326.0 745.2,2327.4 754.6,2328.8 764.0,2330.2 773.3,2331.6 782.7,2332.9 792.1,2334.2 801.5,2335.5 810.8,2336.8 820.2,2338.0 829.6,2339.2 839.0,2340.3 848.3,2341.5 857.7,2342.5 867.1,2343.6 876.5,2344.6 885.8,2345.6 895.2,2346.5 904.6,2347.4 914.0,2348.2 923.3,2349.0 932.7,2349.8 942.1,2350.5 951.5,2351.2 960.8,2351.8 970.2,2352.4 979.6,2353.0 989.0,2353.4 998.3,2353.9 1007.7,2354.3 1017.1,2354.7 1026.5,2355.0 1035.8,2355.2 1045.2,2355.4 1054.6,2355.6 1064.0,2355.7 1073.3,2355.8 1082.7,2355.8 1092.1,2355.8 1101.5,2355.7 1110.8,2355.6 1120.2,2355.4 1129.6,2355.2 1139.0,2355.0 1148.3,2354.7 1157.7,2354.3 1167.1,2353.9 1176.5,2353.4 1185.8,2353.0 1195.2,2352.4 1204.6,2351.8 1214.0,2351.2 1223.3,2350.5 1232.7,2349.8 1242.1,2349.0 1251.5,2348.2 1260.8,2347.4 1270.2,2346.5 1279.6,2345.6 1289.0,2344.6 1298.3,2343.6 1307.7,2342.5 1317.1,2341.5 1326.5,2340.3 1335.8,2339.2 1345.2,2338.0 1354.6,2336.8 1364.0,2335.5 1373.3,2334.2 1382.7,2332.9 1392.1,2331.6 1401.5,2330.2 1410.8,2328.8 1420.2,2327.4 1429.6,2326.0 1439.0,2324.5 1448.3,2323.0 1457.7,2321.5 1467.1,2320.0 1476.5,2318.5 1485.8,2316.9 1495.2,2315.4 1504.6,2313.8 1514.0,2312.3 1523.3,2310.7 1532.7,2309.1 1542.1,2307.5 1551.5,2305.9 1560.8,2304.4 1570.2,2302.8 1579.6,2301.2 1589.0,2299.7 1598.3,2298.1 1607.7,2296.6 1617.1,2295.0 1626.5,2293.5 1635.8,2292.0 1645.2,2290.6 1654.6,2289.1 1664.0,2287.7 1673.3,2286.3 1682.7,2284.9 1692.1,2283.6 1701.5,2282.3 1710.8,2281.0 1720.2,2279.8 1729.6,2278.6 1739.0,2277.4 1748.3,2276.3 1757.7,2275.3 1767.1,2274.3 1776.5,2273.3 1785.8,2272.4 1795.2,2271.5 1804.6,2270.7 1813.9,2270.0 1823.3,2269.3 1832.7,2268.7 1842.1,2268.1 1851.5,2267.6 1860.8,2267.2 1870.2,2266.9 1879.6,2266.6 1889.0,2266.3 1898.3,2266.2 1907.7,2266.1 1917.1,2266.1 1926.5,2266.2" fill="none" stroke="#e6b848" stroke-width="5.0" stroke-linejoin="round"/>
<polyline points="239.0,2010.2 248.3,2012.1 257.7,2014.0 267.1,2015.9 276.5,2017.8 285.8,2019.8 295.2,2021.8 304.6,2023.8 313.9,2025.9 323.3,2027.9 332.7,2030.0 342.1,2032.2 351.5,2034.3 360.8,2036.5 370.2,2038.7 379.6,2040.9 389.0,2043.1 398.3,2045.3 407.7,2047.5 417.1,2049.8 426.5,2052.1 435.8,2054.3 445.2,2056.6 454.6,2058.9 464.0,2061.2 473.3,2063.5 482.7,2065.8 492.1,2068.1 501.5,2070.4 510.8,2072.7 520.2,2074.9 529.6,2077.2 538.9,2079.5 548.3,2081.7 557.7,2084.0 567.1,2086.2 576.5,2088.5 585.8,2090.7 595.2,2092.9 604.6,2095.1 614.0,2097.2 623.3,2099.3 632.7,2101.5 642.1,2103.6 651.5,2105.6 660.8,2107.7 670.2,2109.7 679.6,2111.7 689.0,2113.7 698.3,2115.6 707.7,2117.5 717.1,2119.4 726.5,2121.2 735.8,2123.0 745.2,2124.8 754.6,2126.5 764.0,2128.2 773.3,2129.8 782.7,2131.5 792.1,2133.0 801.5,2134.6 810.8,2136.1 820.2,2137.5 829.6,2138.9 839.0,2140.3 848.3,2141.6 857.7,2142.9 867.1,2144.1 876.5,2145.3 885.8,2146.4 895.2,2147.5 904.6,2148.5 914.0,2149.5 923.3,2150.4 932.7,2151.3 942.1,2152.1 951.5,2152.9 960.8,2153.6 970.2,2154.3 979.6,2154.9 989.0,2155.5 998.3,2156.0 1007.7,2156.5 1017.1,2156.9 1026.5,2157.2 1035.8,2157.5 1045.2,2157.8 1054.6,2157.9 1064.0,2158.1 1073.3,2158.2 1082.7,2158.2 1092.1,2158.2 1101.5,2158.1 1110.8,2157.9 1120.2,2157.8 1129.6,2157.5 1139.0,2157.2 1148.3,2156.9 1157.7,2156.5 1167.1,2156.0 1176.5,2155.5 1185.8,2154.9 1195.2,2154.3 1204.6,2153.6 1214.0,2152.9 1223.3,2152.1 1232.7,2151.3 1242.1,2150.4 1251.5,2149.5 1260.8,2148.5 1270.2,2147.5 1279.6,2146.4 1289.0,2145.3 1298.3,2144.1 1307.7,2142.9 1317.1,2141.6 1326.5,2140.3 1335.8,2138.9 1345.2,2137.5 1354.6,2136.1 1364.0,2134.6 1373.3,2133.0 1382.7,2131.5 1392.1,2129.8 1401.5,2128.2 1410.8,2126.5 1420.2,2124.8 1429.6,2123.0 1439.0,2121.2 1448.3,2119.4 1457.7,2117.5 1467.1,2115.6 1476.5,2113.7 1485.8,2111.7 1495.2,2109.7 1504.6,2107.7 1514.0,2105.6 1523.3,2103.6 1532.7,2101.5 1542.1,2099.3 1551.5,2097.2 1560.8,2095.1 1570.2,2092.9 1579.6,2090.7 1589.0,2088.5 1598.3,2086.2 1607.7,2084.0 1617.1,2081.7 1626.5,2079.5 1635.8,2077.2 1645.2,2074.9 1654.6,2072.7 1664.0,2070.4 1673.3,2068.1 1682.7,2065.8 1692.1,2063.5 1701.5,2061.2 1710.8,2058.9 1720.2,2056.6 1729.6,2054.3 1739.0,2052.1 1748.3,2049.8 1757.7,2047.5 1767.1,2045.3 1776.5,2043.1 1785.8,2040.9 1795.2,2038.7 1804.6,2036.5 1813.9,2034.3 1823.3,2032.2 1832.7,2030.0 1842.1,2027.9 1851.5,2025.9 1860.8,2023.8 1870.2,2021.8 1879.6,2019.8 1889.0,2017.8 1898.3,2015.9 1907.7,2014.0 1917.1,2012.1 1926.5,2010.2" fill="none" stroke="#6b3580" stroke-width="5.0" stroke-linejoin="round"/>
<polyline points="239.0,2010.2 248.3,2008.2 257.7,2006.2 267.1,2004.2 276.5,2002.3 285.8,2000.3 295.2,1998.4 304.6,1996.5 313.9,1994.7 323.3,1992.9 332.7,1991.1 342.1,1989.3 351.5,1987.5 360.8,1985.8 370.2,1984.1 379.6,1982.4 389.0,1980.8 398.3,1979.2 407.7,1977.6 417.1,1976.0 426.5,1974.5 435.8,1973.0 445.2,1971.5 454.6,1970.1 464.0,1968.7 473.3,1967.3 482.7,1965.9 492.1,1964.6 501.5,1963.3 510.8,1962.0 520.2,1960.8 529.6,1959.6 538.9,1958.4 548.3,1957.2 557.7,1956.1 567.1,1955.0 576.5,1953.9 585.8,1952.9 595.2,1951.9 604.6,1950.9 614.0,1949.9 623.3,1949.0 632.7,1948.1 642.1,1947.2 651.5,1946.4 660.8,1945.5 670.2,1944.7 679.6,1943.9 689.0,1943.2 698.3,1942.5 707.7,1941.7 717.1,1941.1 726.5,1940.4 735.8,1939.8 745.2,1939.2 754.6,1938.6 764.0,1938.0 773.3,1937.4 782.7,1936.9 792.1,1936.4 801.5,1935.9 810.8,1935.5 820.2,1935.0 829.6,1934.6 839.0,1934.2 848.3,1933.8 857.7,1933.4 867.1,1933.1 876.5,1932.7 885.8,1932.4 895.2,1932.1 904.6,1931.8 914.0,1931.6 923.3,1931.3 932.7,1931.1 942.1,1930.8 951.5,1930.6 960.8,1930.4 970.2,1930.3 979.6,1930.1 989.0,1930.0 998.3,1929.8 1007.7,1929.7 1017.1,1929.6 1026.5,1929.5 1035.8,1929.4 1045.2,1929.4 1054.6,1929.3 1064.0,1929.3 1073.3,1929.3 1082.7,1929.3 1092.1,1929.3 1101.5,1929.3 1110.8,1929.3 1120.2,1929.4 1129.6,1929.4 1139.0,1929.5 1148.3,1929.6 1157.7,1929.7 1167.1,1929.8 1176.5,1930.0 1185.8,1930.1 1195.2,1930.3 1204.6,1930.4 1214.0,1930.6 1223.3,1930.8 1232.7,1931.1 1242.1,1931.3 1251.5,1931.6 1260.8,1931.8 1270.2,1932.1 1279.6,1932.4 1289.0,1932.7 1298.3,1933.1 1307.7,1933.4 1317.1,1933.8 1326.5,1934.2 1335.8,1934.6 1345.2,1935.0 1354.6,1935.5 1364.0,1935.9 1373.3,1936.4 1382.7,1936.9 1392.1,1937.4 1401.5,1938.0 1410.8,1938.6 1420.2,1939.2 1429.6,1939.8 1439.0,1940.4 1448.3,1941.1 1457.7,1941.7 1467.1,1942.5 1476.5,1943.2 1485.8,1943.9 1495.2,1944.7 1504.6,1945.5 1514.0,1946.4 1523.3,1947.2 1532.7,1948.1 1542.1,1949.0 1551.5,1949.9 1560.8,1950.9 1570.2,1951.9 1579.6,1952.9 1589.0,1953.9 1598.3,1955.0 1607.7,1956.1 1617.1,1957.2 1626.5,1958.4 1635.8,1959.6 1645.2,1960.8 1654.6,1962.0 1664.0,1963.3 1673.3,1964.6 1682.7,1965.9 1692.1,1967.3 1701.5,1968.7 1710.8,1970.1 1720.2,1971.5 1729.6,1973.0 1739.0,1974.5 1748.3,1976.0 1757.7,1977.6 1767.1,1979.2 1776.5,1980.8 1785.8,1982.4 1795.2,1984.1 1804.6,1985.8 1813.9,1987.5 1823.3,1989.3 1832.7,1991.1 1842.1,1992.9 1851.5,1994.7 1860.8,1996.5 1870.2,1998.4 1879.6,2000.3 1889.0,2002.3 1898.3,2004.2 1907.7,2006.2 1917.1,2008.2 1926.5,2010.2" fill="none" stroke="#7c9f48" stroke-width="5.0" stroke-linejoin="round"/>
<polyline points="239.0,1781.2 248.3,1783.2 257.7,1785.2 267.1,1787.2 276.5,1789.1 285.8,1791.1 295.2,1793.0 304.6,1794.9 313.9,1796.7 323.3,1798.5 332.7,1800.3 342.1,1802.1 351.5,1803.9 360.8,1805.6 370.2,1807.3 379.6,1809.0 389.0,1810.6 398.3,1812.2 407.7,1813.8 417.1,1815.4 426.5,1816.9 435.8,1818.4 445.2,1819.9 454.6,1821.3 464.0,1822.7 473.3,1824.1 482.7,1825.5 492.1,1826.8 501.5,1828.1 510.8,1829.4 520.2,1830.6 529.6,1831.8 538.9,1833.0 548.3,1834.2 557.7,1835.3 567.1,1836.4 576.5,1837.5 585.8,1838.5 595.2,1839.5 604.6,1840.5 614.0,1841.5 623.3,1842.4 632.7,1843.3 642.1,1844.2 651.5,1845.0 660.8,1845.9 670.2,1846.7 679.6,1847.5 689.0,1848.2 698.3,1848.9 707.7,1849.7 717.1,1850.3 726.5,1851.0 735.8,1851.6 745.2,1852.2 754.6,1852.8 764.0,1853.4 773.3,1854.0 782.7,1854.5 792.1,1855.0 801.5,1855.5 810.8,1855.9 820.2,1856.4 829.6,1856.8 839.0,1857.2 848.3,1857.6 857.7,1858.0 867.1,1858.3 876.5,1858.7 885.8,1859.0 895.2,1859.3 904.6,1859.6 914.0,1859.8 923.3,1860.1 932.7,1860.3 942.1,1860.6 951.5,1860.8 960.8,1861.0 970.2,1861.1 979.6,1861.3 989.0,1861.4 998.3,1861.6 1007.7,1861.7 1017.1,1861.8 1026.5,1861.9 1035.8,1862.0 1045.2,1862.0 1054.6,1862.1 1064.0,1862.1 1073.3,1862.1 1082.7,1862.1 1092.1,1862.1 1101.5,1862.1 1110.8,1862.1 1120.2,1862.0 1129.6,1862.0 1139.0,1861.9 1148.3,1861.8 1157.7,1861.7 1167.1,1861.6 1176.5,1861.4 1185.8,1861.3 1195.2,1861.1 1204.6,1861.0 1214.0,1860.8 1223.3,1860.6 1232.7,1860.3 1242.1,1860.1 1251.5,1859.8 1260.8,1859.6 1270.2,1859.3 1279.6,1859.0 1289.0,1858.7 1298.3,1858.3 1307.7,1858.0 1317.1,1857.6 1326.5,1857.2 1335.8,1856.8 1345.2,1856.4 1354.6,1855.9 1364.0,1855.5 1373.3,1855.0 1382.7,1854.5 1392.1,1854.0 1401.5,1853.4 1410.8,1852.8 1420.2,1852.2 1429.6,1851.6 1439.0,1851.0 1448.3,1850.3 1457.7,1849.7 1467.1,1848.9 1476.5,1848.2 1485.8,1847.5 1495.2,1846.7 1504.6,1845.9 1514.0,1845.0 1523.3,1844.2 1532.7,1843.3 1542.1,1842.4 1551.5,1841.5 1560.8,1840.5 1570.2,1839.5 1579.6,1838.5 1589.0,1837.5 1598.3,1836.4 1607.7,1835.3 1617.1,1834.2 1626.5,1833.0 1635.8,1831.8 1645.2,1830.6 1654.6,1829.4 1664.0,1828.1 1673.3,1826.8 1682.7,1825.5 1692.1,1824.1 1701.5,1822.7 1710.8,1821.3 1720.2,1819.9 1729.6,1818.4 1739.0,1816.9 1748.3,1815.4 1757.7,1813.8 1767.1,1812.2 1776.5,1810.6 1785.8,1809.0 1795.2,1807.3 1804.6,1805.6 1813.9,1803.9 1823.3,1802.1 1832.7,1800.3 1842.1,1798.5 1851.5,1796.7 1860.8,1794.9 1870.2,1793.0 1879.6,1791.1 1889.0,1789.1 1898.3,1787.2 1907.7,1785.2 1917.1,1783.2 1926.5,1781.2" fill="none" stroke="#6fb3cf" stroke-width="5.0" stroke-linejoin="round"/>
<polyline points="239.0,1781.2 248.3,1779.3 257.7,1777.4 267.1,1775.5 276.5,1773.6 285.8,1771.6 295.2,1769.6 304.6,1767.6 313.9,1765.5 323.3,1763.5 332.7,1761.4 342.1,1759.2 351.5,1757.1 360.8,1754.9 370.2,1752.7 379.6,1750.5 389.0,1748.3 398.3,1746.1 407.7,1743.9 417.1,1741.6 426.5,1739.3 435.8,1737.1 445.2,1734.8 454.6,1732.5 464.0,1730.2 473.3,1727.9 482.7,1725.6 492.1,1723.3 501.5,1721.0 510.8,1718.7 520.2,1716.5 529.6,1714.2 538.9,1711.9 548.3,1709.7 557.7,1707.4 567.1,1705.2 576.5,1702.9 585.8,1700.7 595.2,1698.5 604.6,1696.3 614.0,1694.2 623.3,1692.1 632.7,1689.9 642.1,1687.8 651.5,1685.8 660.8,1683.7 670.2,1681.7 679.6,1679.7 689.0,1677.7 698.3,1675.8 707.7,1673.9 717.1,1672.0 726.5,1670.2 735.8,1668.4 745.2,1666.6 754.6,1664.9 764.0,1663.2 773.3,1661.6 782.7,1659.9 792.1,1658.4 801.5,1656.8 810.8,1655.3 820.2,1653.9 829.6,1652.5 839.0,1651.1 848.3,1649.8 857.7,1648.5 867.1,1647.3 876.5,1646.1 885.8,1645.0 895.2,1643.9 904.6,1642.9 914.0,1641.9 923.3,1641.0 932.7,1640.1 942.1,1639.3 951.5,1638.5 960.8,1637.8 970.2,1637.1 979.6,1636.5 989.0,1635.9 998.3,1635.4 1007.7,1634.9 1017.1,1634.5 1026.5,1634.2 1035.8,1633.9 1045.2,1633.6 1054.6,1633.5 1064.0,1633.3 1073.3,1633.2 1082.7,1633.2 1092.1,1633.2 1101.5,1633.3 1110.8,1633.5 1120.2,1633.6 1129.6,1633.9 1139.0,1634.2 1148.3,1634.5 1157.7,1634.9 1167.1,1635.4 1176.5,1635.9 1185.8,1636.5 1195.2,1637.1 1204.6,1637.8 1214.0,1638.5 1223.3,1639.3 1232.7,1640.1 1242.1,1641.0 1251.5,1641.9 1260.8,1642.9 1270.2,1643.9 1279.6,1645.0 1289.0,1646.1 1298.3,1647.3 1307.7,1648.5 1317.1,1649.8 1326.5,1651.1 1335.8,1652.5 1345.2,1653.9 1354.6,1655.3 1364.0,1656.8 1373.3,1658.4 1382.7,1659.9 1392.1,1661.6 1401.5,1663.2 1410.8,1664.9 1420.2,1666.6 1429.6,1668.4 1439.0,1670.2 1448.3,1672.0 1457.7,1673.9 1467.1,1675.8 1476.5,1677.7 1485.8,1679.7 1495.2,1681.7 1504.6,1683.7 1514.0,1685.8 1523.3,1687.8 1532.7,1689.9 1542.1,1692.1 1551.5,1694.2 1560.8,1696.3 1570.2,1698.5 1579.6,1700.7 1589.0,1702.9 1598.3,1705.2 1607.7,1707.4 1617.1,1709.7 1626.5,1711.9 1635.8,1714.2 1645.2,1716.5 1654.6,1718.7 1664.0,1721.0 1673.3,1723.3 1682.7,1725.6 1692.1,1727.9 1701.5,1730.2 1710.8,1732.5 1720.2,1734.8 1729.6,1737.1 1739.0,1739.3 1748.3,1741.6 1757.7,1743.9 1767.1,1746.1 1776.5,1748.3 1785.8,1750.5 1795.2,1752.7 1804.6,1754.9 1813.9,1757.1 1823.3,1759.2 1832.7,1761.4 1842.1,1763.5 1851.5,1765.5 1860.8,1767.6 1870.2,1769.6 1879.6,1771.6 1889.0,1773.6 1898.3,1775.5 1907.7,1777.4 1917.1,1779.3 1926.5,1781.2" fill="none" stroke="#7a1e3e" stroke-width="5.0" stroke-linejoin="round"/>
<polyline points="239.0,1525.2 248.3,1525.3 257.7,1525.3 267.1,1525.2 276.5,1525.1 285.8,1524.8 295.2,1524.5 304.6,1524.2 313.9,1523.8 323.3,1523.3 332.7,1522.7 342.1,1522.1 351.5,1521.4 360.8,1520.7 370.2,1519.9 379.6,1519.0 389.0,1518.1 398.3,1517.1 407.7,1516.1 417.1,1515.1 426.5,1514.0 435.8,1512.8 445.2,1511.6 454.6,1510.4 464.0,1509.1 473.3,1507.8 482.7,1506.5 492.1,1505.1 501.5,1503.7 510.8,1502.3 520.2,1500.8 529.6,1499.4 538.9,1497.9 548.3,1496.4 557.7,1494.8 567.1,1493.3 576.5,1491.7 585.8,1490.2 595.2,1488.6 604.6,1487.0 614.0,1485.5 623.3,1483.9 632.7,1482.3 642.1,1480.7 651.5,1479.1 660.8,1477.6 670.2,1476.0 679.6,1474.5 689.0,1472.9 698.3,1471.4 707.7,1469.9 717.1,1468.4 726.5,1466.9 735.8,1465.4 745.2,1464.0 754.6,1462.6 764.0,1461.2 773.3,1459.8 782.7,1458.5 792.1,1457.2 801.5,1455.9 810.8,1454.6 820.2,1453.4 829.6,1452.2 839.0,1451.1 848.3,1449.9 857.7,1448.9 867.1,1447.8 876.5,1446.8 885.8,1445.8 895.2,1444.9 904.6,1444.0 914.0,1443.2 923.3,1442.4 932.7,1441.6 942.1,1440.9 951.5,1440.2 960.8,1439.6 970.2,1439.0 979.6,1438.4 989.0,1438.0 998.3,1437.5 1007.7,1437.1 1017.1,1436.7 1026.5,1436.4 1035.8,1436.2 1045.2,1436.0 1054.6,1435.8 1064.0,1435.7 1073.3,1435.6 1082.7,1435.6 1092.1,1435.6 1101.5,1435.7 1110.8,1435.8 1120.2,1436.0 1129.6,1436.2 1139.0,1436.4 1148.3,1436.7 1157.7,1437.1 1167.1,1437.5 1176.5,1438.0 1185.8,1438.4 1195.2,1439.0 1204.6,1439.6 1214.0,1440.2 1223.3,1440.9 1232.7,1441.6 1242.1,1442.4 1251.5,1443.2 1260.8,1444.0 1270.2,1444.9 1279.6,1445.8 1289.0,1446.8 1298.3,1447.8 1307.7,1448.9 1317.1,1449.9 1326.5,1451.1 1335.8,1452.2 1345.2,1453.4 1354.6,1454.6 1364.0,1455.9 1373.3,1457.2 1382.7,1458.5 1392.1,1459.8 1401.5,1461.2 1410.8,1462.6 1420.2,1464.0 1429.6,1465.4 1439.0,1466.9 1448.3,1468.4 1457.7,1469.9 1467.1,1471.4 1476.5,1472.9 1485.8,1474.5 1495.2,1476.0 1504.6,1477.6 1514.0,1479.1 1523.3,1480.7 1532.7,1482.3 1542.1,1483.9 1551.5,1485.5 1560.8,1487.0 1570.2,1488.6 1579.6,1490.2 1589.0,1491.7 1598.3,1493.3 1607.7,1494.8 1617.1,1496.4 1626.5,1497.9 1635.8,1499.4 1645.2,1500.8 1654.6,1502.3 1664.0,1503.7 1673.3,1505.1 1682.7,1506.5 1692.1,1507.8 1701.5,1509.1 1710.8,1510.4 1720.2,1511.6 1729.6,1512.8 1739.0,1514.0 1748.3,1515.1 1757.7,1516.1 1767.1,1517.1 1776.5,1518.1 1785.8,1519.0 1795.2,1519.9 1804.6,1520.7 1813.9,1521.4 1823.3,1522.1 1832.7,1522.7 1842.1,1523.3 1851.5,1523.8 1860.8,1524.2 1870.2,1524.5 1879.6,1524.8 1889.0,1525.1 1898.3,1525.2 1907.7,1525.3 1917.1,1525.3 1926.5,1525.2" fill="none" stroke="#2f6f9f" stroke-width="5.0" stroke-linejoin="round"/>
<polyline points="239.0,1525.2 248.3,1525.2 257.7,1525.1 267.1,1525.0 276.5,1524.8 285.8,1524.5 295.2,1524.2 304.6,1523.8 313.9,1523.4 323.3,1522.9 332.7,1522.4 342.1,1521.8 351.5,1521.1 360.8,1520.4 370.2,1519.7 379.6,1518.9 389.0,1518.0 398.3,1517.1 407.7,1516.1 417.1,1515.1 426.5,1514.0 435.8,1512.9 445.2,1511.7 454.6,1510.5 464.0,1509.2 473.3,1507.9 482.7,1506.6 492.1,1505.2 501.5,1503.8 510.8,1502.3 520.2,1500.8 529.6,1499.3 538.9,1497.7 548.3,1496.1 557.7,1494.5 567.1,1492.8 576.5,1491.1 585.8,1489.4 595.2,1487.7 604.6,1486.0 614.0,1484.2 623.3,1482.4 632.7,1480.7 642.1,1478.9 651.5,1477.1 660.8,1475.2 670.2,1473.4 679.6,1471.6 689.0,1469.8 698.3,1468.0 707.7,1466.2 717.1,1464.4 726.5,1462.6 735.8,1460.9 745.2,1459.1 754.6,1457.4 764.0,1455.6 773.3,1453.9 782.7,1452.3 792.1,1450.6 801.5,1449.0 810.8,1447.4 820.2,1445.8 829.6,1444.3 839.0,1442.8 848.3,1441.4 857.7,1440.0 867.1,1438.6 876.5,1437.3 885.8,1436.0 895.2,1434.8 904.6,1433.6 914.0,1432.5 923.3,1431.4 932.7,1430.4 942.1,1429.4 951.5,1428.5 960.8,1427.6 970.2,1426.8 979.6,1426.1 989.0,1425.4 998.3,1424.8 1007.7,1424.3 1017.1,1423.8 1026.5,1423.3 1035.8,1423.0 1045.2,1422.7 1054.6,1422.5 1064.0,1422.3 1073.3,1422.2 1082.7,1422.2 1092.1,1422.2 1101.5,1422.3 1110.8,1422.5 1120.2,1422.7 1129.6,1423.0 1139.0,1423.3 1148.3,1423.8 1157.7,1424.3 1167.1,1424.8 1176.5,1425.4 1185.8,1426.1 1195.2,1426.8 1204.6,1427.6 1214.0,1428.5 1223.3,1429.4 1232.7,1430.4 1242.1,1431.4 1251.5,1432.5 1260.8,1433.6 1270.2,1434.8 1279.6,1436.0 1289.0,1437.3 1298.3,1438.6 1307.7,1440.0 1317.1,1441.4 1326.5,1442.8 1335.8,1444.3 1345.2,1445.8 1354.6,1447.4 1364.0,1449.0 1373.3,1450.6 1382.7,1452.3 1392.1,1453.9 1401.5,1455.6 1410.8,1457.4 1420.2,1459.1 1429.6,1460.9 1439.0,1462.6 1448.3,1464.4 1457.7,1466.2 1467.1,1468.0 1476.5,1469.8 1485.8,1471.6 1495.2,1473.4 1504.6,1475.2 1514.0,1477.1 1523.3,1478.9 1532.7,1480.7 1542.1,1482.4 1551.5,1484.2 1560.8,1486.0 1570.2,1487.7 1579.6,1489.4 1589.0,1491.1 1598.3,1492.8 1607.7,1494.5 1617.1,1496.1 1626.5,1497.7 1635.8,1499.3 1645.2,1500.8 1654.6,1502.3 1664.0,1503.8 1673.3,1505.2 1682.7,1506.6 1692.1,1507.9 1701.5,1509.2 1710.8,1510.5 1720.2,1511.7 1729.6,1512.9 1739.0,1514.0 1748.3,1515.1 1757.7,1516.1 1767.1,1517.1 1776.5,1518.0 1785.8,1518.9 1795.2,1519.7 1804.6,1520.4 1813.9,1521.1 1823.3,1521.8 1832.7,1522.4 1842.1,1522.9 1851.5,1523.4 1860.8,1523.8 1870.2,1524.2 1879.6,1524.5 1889.0,1524.8 1898.3,1525.0 1907.7,1525.1 1917.1,1525.2 1926.5,1525.2" fill="none" stroke="#c0653a" stroke-width="5.0" stroke-linejoin="round"/>
<path d="M178.5,1867H2009" stroke="#555" stroke-width="2.2" fill="none"/>
<rect x="153.5" y="1417.3" width="1866.8" height="955.8" fill="none" stroke="#333" stroke-width="2.4"/>
<path d="M332.7,2373.1v-20M332.7,1417.3v20M520.2,2373.1v-20M520.2,1417.3v20M707.7,2373.1v-20M707.7,1417.3v20M895.2,2373.1v-20M895.2,1417.3v20M1082.7,2373.1v-20M1082.7,1417.3v20M1270.2,2373.1v-20M1270.2,1417.3v20M1457.7,2373.1v-20M1457.7,1417.3v20M1645.2,2373.1v-20M1645.2,1417.3v20M1832.7,2373.1v-20M1832.7,1417.3v20M153.5,1447.2h20M2020.3,1447.2h-20M153.5,1596.7h20M2020.3,1596.7h-20M153.5,1746.2h20M2020.3,1746.2h-20M153.5,1895.7h20M2020.3,1895.7h-20M153.5,2045.2h20M2020.3,2045.2h-20M153.5,2194.7h20M2020.3,2194.7h-20M153.5,2344.2h20M2020.3,2344.2h-20" stroke="#333" stroke-width="2" fill="none"/>
<text transform="translate(136.0,1463.6) scale(1.0,1)" text-anchor="end" font-family="Liberation Serif, serif" font-weight="bold" font-size="51.5" fill="#1a1a1a">3</text>
<text transform="translate(136.0,1613.1) scale(1.0,1)" text-anchor="end" font-family="Liberation Serif, serif" font-weight="bold" font-size="51.5" fill="#1a1a1a">2</text>
<text transform="translate(136.0,1762.6) scale(1.0,1)" text-anchor="end" font-family="Liberation Serif, serif" font-weight="bold" font-size="51.5" fill="#1a1a1a">1</text>
<text transform="translate(136.0,1912.1) scale(1.0,1)" text-anchor="end" font-family="Liberation Serif, serif" font-weight="bold" font-size="51.5" fill="#1a1a1a">0</text>
<text transform="translate(136.0,2061.6) scale(1.0,1)" text-anchor="end" font-family="Liberation Serif, serif" font-weight="bold" font-size="51.5" fill="#1a1a1a">-1</text>
<text transform="translate(136.0,2211.1) scale(1.0,1)" text-anchor="end" font-family="Liberation Serif, serif" font-weight="bold" font-size="51.5" fill="#1a1a1a">-2</text>
<text transform="translate(136.0,2360.6) scale(1.0,1)" text-anchor="end" font-family="Liberation Serif, serif" font-weight="bold" font-size="51.5" fill="#1a1a1a">-3</text>
<text transform="translate(330.2,2436.8) scale(1.01,1)" text-anchor="middle" font-family="Liberation Serif, serif" font-weight="bold" font-size="51.5" fill="#1a1a1a">-0.4</text>
<text transform="translate(517.7,2436.8) scale(1.01,1)" text-anchor="middle" font-family="Liberation Serif, serif" font-weight="bold" font-size="51.5" fill="#1a1a1a">-0.3</text>
<text transform="translate(705.2,2436.8) scale(1.01,1)" text-anchor="middle" font-family="Liberation Serif, serif" font-weight="bold" font-size="51.5" fill="#1a1a1a">-0.2</text>
<text transform="translate(892.7,2436.8) scale(1.01,1)" text-anchor="middle" font-family="Liberation Serif, serif" font-weight="bold" font-size="51.5" fill="#1a1a1a">-0.1</text>
<text transform="translate(1080.2,2436.8) scale(1.01,1)" text-anchor="middle" font-family="Liberation Serif, serif" font-weight="bold" font-size="51.5" fill="#1a1a1a">0</text>
<text transform="translate(1267.7,2436.8) scale(1.01,1)" text-anchor="middle" font-family="Liberation Serif, serif" font-weight="bold" font-size="51.5" fill="#1a1a1a">0.1</text>
<text transform="translate(1455.2,2436.8) scale(1.01,1)" text-anchor="middle" font-family="Liberation Serif, serif" font-weight="bold" font-size="51.5" fill="#1a1a1a">0.2</text>
<text transform="translate(1642.7,2436.8) scale(1.01,1)" text-anchor="middle" font-family="Liberation Serif, serif" font-weight="bold" font-size="51.5" fill="#1a1a1a">0.3</text>
<text transform="translate(1830.2,2436.8) scale(1.01,1)" text-anchor="middle" font-family="Liberation Serif, serif" font-weight="bold" font-size="51.5" fill="#1a1a1a">0.4</text>
<text transform="translate(2017.7,2436.8) scale(1.01,1)" text-anchor="middle" font-family="Liberation Serif, serif" font-weight="bold" font-size="51.5" fill="#1a1a1a">0.5</text>
<text transform="translate(1085.7,1395.4) scale(1.064,1)" text-anchor="middle" font-family="Liberation Serif, serif" font-weight="bold" font-size="54.5" fill="#111">Bandstructure of Alpha Graphyne</text>
<text transform="translate(1103.8,2473.5) scale(1.074,1)" text-anchor="middle" font-family="Liberation Serif, serif" font-weight="bold" font-size="54.2" fill="#333">Wavenumber,K(rad)</text>
<text transform="translate(76.5,1894.3) scale(1.05,1) rotate(-90)" text-anchor="middle" font-family="Liberation Serif, serif" font-weight="bold" font-size="55.5" fill="#333">Energy, E(eV)</text>
<text transform="translate(1847.4,1862.9) scale(1.007,1)" text-anchor="start" font-family="Liberation Sans, sans-serif" font-weight="normal" font-size="39.6" fill="#222">Ef = 0.233 eV</text>
</g>
<text transform="translate(1045.8,2591.5) scale(0.97,1)" text-anchor="middle" font-family="Liberation Serif, serif" font-size="87.6" fill="#000">(<tspan font-weight="bold">b</tspan>)</text>
</svg></body></html>
